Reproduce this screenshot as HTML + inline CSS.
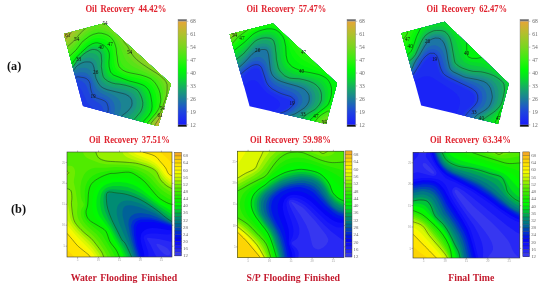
<!DOCTYPE html><html><head><meta charset="utf-8"><style>html,body{margin:0;padding:0;background:#fff;width:550px;height:288px;overflow:hidden}svg{display:block}</style></head><body>
<svg width="550" height="288" viewBox="0 0 550 288">
<rect width="550" height="288" fill="#fff"/>
<defs>
<linearGradient id="cba" x1="0" y1="0" x2="0" y2="1"><stop offset="0.0000" stop-color="#e6a537"/><stop offset="0.1250" stop-color="#afc12d"/><stop offset="0.2500" stop-color="#78d71e"/><stop offset="0.3750" stop-color="#32f00f"/><stop offset="0.4643" stop-color="#00fa05"/><stop offset="0.5357" stop-color="#05e123"/><stop offset="0.6250" stop-color="#14b45a"/><stop offset="0.6786" stop-color="#199b78"/><stop offset="0.7500" stop-color="#1c7d9b"/><stop offset="0.8214" stop-color="#1e5cc3"/><stop offset="0.8750" stop-color="#1e44de"/><stop offset="0.9464" stop-color="#1c2df0"/><stop offset="1.0000" stop-color="#191efa"/></linearGradient>
<clipPath id="cA1"><polygon points="64,34 104.5,23.3 171,84 158,126 83,106"/></clipPath>
<clipPath id="cA2"><polygon points="229.8,34.2 272.9,23.5 337.1,83.3 326,123.8 249.6,106.3"/></clipPath>
<clipPath id="cA3"><polygon points="401.5,33.3 444.5,21.8 508.8,83.5 498,123.8 421.2,105.6"/></clipPath>
<clipPath id="cB1"><rect x="67" y="152" width="105" height="105"/></clipPath>
<clipPath id="cB2"><rect x="237.5" y="151.2" width="106.5" height="106.3"/></clipPath>
<clipPath id="cB3"><rect x="413" y="152.4" width="106.8" height="105.6"/></clipPath>
</defs>
<text x="85.4" y="11.9" font-size="9.3" fill="#e0222e" font-weight="bold" textLength="81" lengthAdjust="spacingAndGlyphs" word-spacing="1.6" font-family="Liberation Serif, Times New Roman, serif">Oil Recovery 44.42%</text>
<text x="246.5" y="11.9" font-size="9.3" fill="#e0222e" font-weight="bold" textLength="79.6" lengthAdjust="spacingAndGlyphs" word-spacing="1.6" font-family="Liberation Serif, Times New Roman, serif">Oil Recovery 57.47%</text>
<text x="426.5" y="11.9" font-size="9.3" fill="#e0222e" font-weight="bold" textLength="80.5" lengthAdjust="spacingAndGlyphs" word-spacing="1.6" font-family="Liberation Serif, Times New Roman, serif">Oil Recovery 62.47%</text>
<text x="89" y="142.6" font-size="9.3" fill="#e0222e" font-weight="bold" textLength="80.7" lengthAdjust="spacingAndGlyphs" word-spacing="1.6" font-family="Liberation Serif, Times New Roman, serif">Oil Recovery 37.51%</text>
<text x="250.1" y="142.6" font-size="9.3" fill="#e0222e" font-weight="bold" textLength="80.7" lengthAdjust="spacingAndGlyphs" word-spacing="1.6" font-family="Liberation Serif, Times New Roman, serif">Oil Recovery 59.98%</text>
<text x="430" y="142.6" font-size="9.3" fill="#e0222e" font-weight="bold" textLength="80.7" lengthAdjust="spacingAndGlyphs" word-spacing="1.6" font-family="Liberation Serif, Times New Roman, serif">Oil Recovery 63.34%</text>
<text x="7" y="70.3" font-size="12.3" fill="#111" font-weight="bold" text-anchor="start" font-family="Liberation Serif, Times New Roman, serif" >(a)</text>
<text x="11" y="213" font-size="12.3" fill="#111" font-weight="bold" text-anchor="start" font-family="Liberation Serif, Times New Roman, serif" >(b)</text>
<text x="70.7" y="281.1" font-size="9.8" fill="#c41a2e" font-weight="bold" text-anchor="start" font-family="Liberation Serif, Times New Roman, serif" word-spacing="1.3">Water Flooding Finished</text>
<text x="246.5" y="281.1" font-size="9.8" fill="#c41a2e" font-weight="bold" text-anchor="start" font-family="Liberation Serif, Times New Roman, serif" word-spacing="1">S/P Flooding Finished</text>
<text x="448.2" y="281.1" font-size="9.8" fill="#c41a2e" font-weight="bold" text-anchor="start" font-family="Liberation Serif, Times New Roman, serif" word-spacing="0.5">Final Time</text>
<g clip-path="url(#cA1)">
<rect x="63.0" y="22.3" width="109.0" height="104.7" fill="#1a23f7"/>
<path d="M63.8 22.3L172.5 22.3 172.5 127.3 63 127.3 63 22.3Z" fill="#1c2df0"/>
<path d="M63.8 22.3L172.5 22.3 172.5 127.3 63 127.3 63 22.3Z" fill="#1d38e7"/>
<path d="M63.8 22.3L172.5 22.3 172.5 127.3 63 127.3 63 22.3ZM77.3 86.8L70.1 102.5 68.7 106.3 68.4 108.5 68.8 110.8 70.5 112.9 73.5 114.3 76.5 114.7 80.2 114.4 84 113.4 92.1 110 93.3 109.3 93.3 108.5 89.2 104.8 87.3 102.5 82.1 91.3 79.6 87.5 78 86.3Z" fill="#1e44de"/>
<path d="M63.8 22.3L172.5 22.3 172.5 127.3 96.1 127.3 96.4 124.3 97.7 120.5 99.7 116.8 103.1 112.3 103.5 111.5 103.6 110.1 102.3 107 100.6 104.8 98.9 103.3 93.8 99.9 91.2 97.3 89.6 94.3 86.8 86.8 84.8 83.6 83.2 82.2 81 80.8 78 79.8 76.5 79.9 72 85.1 69.8 87 66.8 88.7 63 89.5 63 22.3Z" fill="#1e54cc"/>
<path d="M63.8 22.3L172.5 22.3 172.5 127.3 105.3 127.3 105.5 124.3 106.5 120.5 110.4 112.3 110.5 107.8 109.7 104 108.6 101.8 106.5 99.7 103.5 98 98.1 95.8 95.2 93.5 93.8 91.3 92.9 89 91.5 83 90.8 81 89.2 78.8 87 77 84.8 75.9 78.8 75.3 76.5 75.4 75 76.2 72 79.6 69 81.8 66 83.1 63 83.6 63 22.3Z" fill="#1e64b9"/>
<path d="M63.8 22.3L172.5 22.3 172.5 127.3 111.7 127.3 112.2 122 114.2 113.8 114.8 110 114.7 106.3 113.9 103.3 112.1 100.3 109.8 98 107.2 96.3 100.5 92.8 97.5 90.3 95.2 86.8 91.7 78.5 89.2 75.2 87 73.5 84.8 72.6 82.5 72.2 79.5 72.3 75 73.6 70.5 77.1 68.2 78.4 66 79.2 63 79.6 63 22.3Z" fill="#1c75a5"/>
<path d="M63.8 22.3L172.5 22.3 172.5 127.3 117 127.3 118 116 120.2 110.8 121 107.8 121.1 104.8 120.2 101.8 118.2 98.8 114.8 95.9 111 94 103.5 90.9 99.6 88.3 96.8 84.3 92.2 73.6 89.9 70.3 88.5 69.1 86.2 68 84 67.7 81 68 78 69.1 69 75.1 66 76.2 63 76.6 63 22.3Z" fill="#1b8492"/>
<path d="M63.8 22.3L172.5 22.3 172.5 127.3 121.8 127.3 122.3 117.5 123 116.3 127.5 113.2 129.2 111.5 131.2 109.3 132.7 107 133.2 105.5 133.3 103.3 133.2 100.3 132.7 98.8 130.5 95.8 126.8 93.5 123.8 92.5 114 90.5 107.2 88.7 103.5 87.1 101.2 85.5 98.7 82.3 96.9 78.5 96.2 76.3 95.7 71.8 94.5 65.6 93.3 62.8 91.5 61.3 89.2 60.8 86.2 60.8 84 61.2 81.8 62 79.1 63.5 76.5 65.7 75 67.4 73.7 69.5 71.2 71.6 67.5 73.3 63 74.1 63 22.3Z" fill="#1a9481"/>
<path d="M63.8 22.3L172.5 22.3 172.5 127.3 126.3 127.3 126.6 122.1 127.2 118.3 133.5 111.7 135.1 109.3 136 107 136.5 104.8 136.6 101.8 136.2 99.5 135.3 97.3 133.9 95 132.5 93.5 128.2 90.9 123.8 89.4 113.2 87.4 109.5 86.3 105.8 84.7 102.8 82.5 100.7 80 99.3 77 96.5 62.8 95.2 60.5 93 58.5 90.8 57.7 88.5 57.6 86.2 57.9 83.2 58.9 80.2 60.7 78 62.5 75.8 64.8 72.8 68.7 71.2 69.8 67.5 71.3 63 71.9 63 22.3Z" fill="#17a36e"/>
<path d="M63.8 22.3L172.5 22.3 172.5 127.3 130.3 127.3 130.7 123.5 131.8 119.8 133.2 117.5 136.6 113.8 138.1 111.5 139.3 109.3 140.1 107 140.6 104 140.5 101.8 139.9 98.8 138.7 95.8 137.4 93.5 135.8 91.6 133.5 89.9 130.5 88.4 124.5 86.4 114.8 85 111 84.1 106.5 82 103.5 79.8 102 77.3 101 73.3 100 66.5 99.8 61.3 99.3 59 97.8 56 95.2 54 93 53.2 90.8 53 88.5 53.4 85.5 54.6 82.5 56.5 78.8 59.7 73.5 66.6 72 68.1 68.2 69.4 63 70 63 22.3Z" fill="#14b45a"/>
<path d="M63.8 22.3L172.5 22.3 172.5 127.3 133.8 127.3 134.4 123.5 136 119.8 141.8 112.6 143.6 108.5 144.2 105.5 144.2 102.6 143.4 98.8 142.4 95.8 140.5 92 138.9 89.8 135.4 87.5 131.6 86 125.2 84.2 115.5 82.5 112.5 81.7 108.8 80 106 77.8 104.5 75.5 103.2 70.3 102.6 65.8 102.9 60.5 102.7 54.5 101.3 51.5 98.7 49.3 96 48.4 93.8 48.1 91.5 48.5 89.5 49.3 85.1 52.3 78.8 58 77.2 59.8 73.3 65.8 72 67.1 69 67.8 63 68.2 63 22.3Z" fill="#0ec644"/>
<path d="M63.8 22.3L172.5 22.3 172.5 127.3 136.7 127.3 137.1 124.3 138.1 121.3 144.2 113 145.3 110.8 146.2 107.8 146.6 104.8 146.4 101.8 145.7 98 144.4 94.3 141.5 89.8 139.9 88.3 137.5 86.8 130.5 84.3 114 79.9 111 78.5 108.3 76.3 106.4 73.3 105.2 68.8 104.8 65 104.9 56.8 104.5 53.8 102.8 50.4 99.7 47.9 97.5 47 95.2 46.6 92.2 46.9 90 47.8 84.8 51.5 78.1 57.5 72.8 65.5 72 66.2 70.5 66.5 63 66.4 63 22.3Z" fill="#08d82e"/>
<path d="M63.8 22.3L172.5 22.3 172.5 127.3 139.1 127.3 139.6 124.3 140.4 122 146.7 113.8 148.1 110.8 148.8 108.5 149.2 105.5 149 101.8 148.2 97.3 146.9 93.5 145.7 91.3 143.9 89 142.3 87.5 139.8 86 136.5 84.7 116.2 78.5 112.5 76.9 110.2 75.2 108.4 72.5 107.2 68 106.8 64.3 107.1 56.8 106.5 53 105.5 50.8 104.5 49.3 101.2 46.5 98.2 45.2 96 45 93 45.3 90.8 46.2 88.5 47.5 84.8 50.5 77.9 56.8 76.1 59.1 72 65.2 70.5 65.5 66.8 64.9 63 64.7 63 22.3Z" fill="#04e71c"/>
<path d="M63.8 22.3L172.5 22.3 172.5 127.3 141.2 127.3 141.5 125 142.3 122.8 148.5 115.8 150.7 112.3 151.7 110 152.1 106.3 151.9 102.6 150.6 95 149.3 91.3 147.9 89 146.2 87.2 142.5 84.8 138 83.2 129 80.9 123.8 79 114.7 75.5 113.2 74.8 111.8 73.5 110.2 71 109.1 66.5 108.9 62 109.4 56.8 109 52.3 107.2 48.5 105.3 46.3 103.5 44.9 100.5 43.5 97.5 42.8 95.2 42.9 92.2 43.8 87.8 46.5 81 52.7 76.9 56.8 72 63.6 71.2 64.1 66.8 63.2 63 62.9 63 22.3Z" fill="#01f40c"/>
<path d="M63.8 22.3L172.5 22.3 172.5 127.3 143 127.3 143.3 125 144.1 122.8 150.8 115.2 153 111.5 153.7 109.3 154.3 104.8 154.2 101 153.2 95 151.7 90.5 150.4 88.3 148.6 86 144.8 83.3 141 81.7 130.5 79 123.8 76.7 117.9 74 114.9 71.8 113.2 69.5 111.9 65.8 111.5 62.8 111.3 53.8 110.5 50 109.5 47.8 108 45.5 105 42.8 102 41.4 98.2 40.5 95.2 40.7 92.2 41.6 88.5 43.7 85.2 46.3 75.2 56.8 71.2 61.8 70.5 62.1 66.8 61.3 63 61 63 22.3Z" fill="#0af807"/>
<path d="M63.8 22.3L172.5 22.3 172.5 127.3 144.5 127.3 145 124.3 145.6 122.8 152.5 114.5 154.8 110.8 155.9 107.8 156.6 104.1 156.6 99.5 155.8 94.3 154.5 90.5 152.9 87.5 151.2 85.3 148.9 83 146.2 81.3 140.2 79 129 76.3 124.5 74.8 120 72.6 117.1 70.3 115.2 67.3 114.3 64.3 113.1 52.3 112 47.8 109.5 43.4 108 41.8 105.8 40.1 102.8 38.8 99 38 95.2 38.3 92.2 39.3 88.5 41.3 84.8 44.1 70.5 59.5 69 59.6 63 59 63 22.3Z" fill="#1ef40b"/>
<path d="M63.8 22.3L172.5 22.3 172.5 127.3 145.9 127.3 146.3 124.3 147 122.8 155.7 112.3 158.4 107 159.1 104 159.5 99.6 158.8 94.3 157.7 90.5 155.8 86.8 153.7 83.8 150.8 80.9 148.5 79.4 145.5 78 141 76.5 126 73.3 122.5 71.8 119.2 69.3 117.7 67.3 116.2 62.4 115 50 113.9 45.5 111.7 41 110.2 39.4 108 37.6 104.2 35.8 99.8 34.9 96 35.2 93 36.2 88.5 38.5 84 41.9 76.7 50.8 70.5 56.7 69 57.3 63 56.8 63 22.3Z" fill="#32f00f"/>
<path d="M63.8 22.3L172.5 22.3 172.5 127.3 147.1 127.3 147.5 124.3 148.2 122.8 156.7 113 159 109.7 159.9 107.8 161.4 101.8 161.6 98.8 161.1 92.8 160 89 158.3 85.3 156.4 82.3 154.4 80 151.7 77.8 142.9 74 129 69.8 125.7 68 123.2 65.8 121.5 63.4 120 59.9 118.4 53 117.5 47.8 116.2 43.7 114.8 40.6 111.8 36.7 108 34 102 32 98.2 31.8 93.5 32.8 90.8 34 88.5 35.4 82.4 40.3 75 49.4 69.8 54.2 68.2 54.7 63 54.5 63 22.3Z" fill="#46e913"/>
<path d="M63.8 22.3L172.5 22.3 172.5 127.3 148.3 127.3 148.5 124.3 149.3 122.8 156.8 114.4 159.5 110.8 160.7 108.6 162.5 101.8 163 98 163 92 161.7 86.8 160.3 83.8 158.8 81.5 156.8 79.2 153.8 76.7 147.8 73.4 134.3 67.3 130.7 65 128.2 62.8 126 60.2 124.1 56.8 119.9 46.3 117.7 41.8 115.2 38 112.5 35.1 108.8 32.3 104.2 30.4 98.2 29.2 96 29.3 94.5 29.6 90 31.7 84.8 35.4 80.2 39.7 74.2 46.8 69 51.6 67.5 52.2 63 52.2 63 22.3Z" fill="#5ae218"/>
<path d="M63.8 22.3L172.5 22.3 172.5 127.3 149.4 127.3 149.6 124.3 150.3 122.8 159.4 112.3 161.6 108.5 164.1 99.5 165 94.3 164.8 89 163.7 84.5 161.6 80.8 157.1 76.3 152.2 73.2 138.8 65.7 135 63.1 132 60.5 128.2 55.7 124.2 47.8 120.4 41.8 116.9 37.3 113.2 33.4 108.5 29.8 104.2 28.1 99.4 26.8 98.5 26 97.5 24.3 96.8 23.6 96 23.4 94.5 24.3 91.7 27.6 84 33 75 42.9 69 48.5 66.8 49.6 63 49.8 63 22.3Z" fill="#6edb1c"/>
<path d="M63.8 22.3L87.5 22.3 87.2 25.3 86.4 27.6 80.2 33.4 73.8 41 67.5 46.6 66 47.2 63 47.4 63 22.3ZM120.8 22.3L172.5 22.3 172.5 127.3 150.6 127.3 150.7 124.3 151.4 122.8 159.8 113.2 161.2 110.9 162.4 108.5 163.5 104.1 165.4 99.5 166.8 94.3 167.2 89 167.1 84.5 165.8 81.5 164.7 80 159.9 75.5 141 63.1 136.9 59.8 133.5 56.2 130.5 51.9 127.5 46.2 124.4 42.5 121.2 36.5 120.5 31.3 120.3 22.3Z" fill="#80d420"/>
<path d="M63.8 22.3L82.2 22.3 82.1 26.8 82 28.3 81 29.8 69.9 41.8 66.3 44.8 63 45.3 63 22.3ZM171 33.5L172.5 33.3 172.5 79.2 168.8 80.3 167.2 79.5 164.2 76.6 154 69.5 145.6 62.8 136.8 54.5 134.4 51.5 133.3 49.3 133.5 48.3 134.2 47.8 147.9 43.3 165 35.3 170.5 33.5ZM171 92.7L172.5 92.6 172.5 127.3 151.7 127.3 151.7 125 152.3 123.5 154.4 120.5 158.4 116 161.2 112.1 163.2 108.6 164.4 104.8 166.2 101.8 168 96.3 169.5 93.5 170.8 92.8Z" fill="#90ce24"/>
<path d="M63.8 22.3L77.2 22.3 77.7 29.1 77.7 29.8 76.8 31.3 72 36.8 67.5 41.4 65.2 43 63 43.3 63 22.3ZM171 106.2L172.5 106.1 172.5 127.3 152.9 127.3 153 125 153.6 123.6 159.3 116 163.5 109.5 165 108.3 166.5 107.5 170.6 106.3Z" fill="#9fc729"/>
<path d="M63.8 22.3L71.3 22.3 71.7 25.3 73.3 31.3 72.7 32.8 70.5 35.5 66 40.3 64.9 41 63.8 41.3 63 41.3 63 22.3ZM164.2 110.8L168 111.9 172.5 112.3 172.5 127.3 154.1 127.3 154.2 125.1 154.9 123.6 162.8 112.1 164.2 110.8Z" fill="#afc12d"/>
<path d="M63.2 27.5L65.2 28.2 66.8 29.2 68.8 31.3 69.2 32.8 68.3 34.3 65.2 37.6 64.5 38.2 63 38.5 63 27.5ZM161.2 116.7L162 116.3 162.8 116.5 169.5 119.4 172.5 120 172.5 127.3 155.4 127.3 155.4 125.8 156 124.3 158.2 120.5 161.1 116.8Z" fill="#bfb930"/>
<path d="M63.8 32.9L65.1 33.5 65 34.3 63.8 35.2 63 35.2 63 32.9ZM159.8 121.1L160.5 120.8 161.6 122 162.5 124.3 162.9 127.3 157.1 127.3 157.2 125.1 159.6 121.3Z" fill="#ceb133"/>
<path d="M101.2 127.3L101.7 123.5 102.9 119.8 104.9 116 107.8 112.3 108.3 109.3 108 106.6 106.9 103.3 105.8 101.8 105 101.2 101.7 99.6 96 97.8 94.5 96.9 93.4 95.8 92.4 94.3 91.5 92 90.6 88.3 90 83.6 89.2 81.6 88.1 80 86.1 78.5 84 77.7 78 76.8 76.5 77 75.8 77.5 72.8 81.3 69.8 83.8 66.8 85.4 63 86.1M120.6 127.3L121 118.3 121.5 116.2 122.2 115.4 126.5 112.3 128 110.8 130.5 107.9 131.7 105.5 132 103.3 131.7 100.3 130.6 98 129.2 96.5 128.2 95.8 125.4 94.3 123.2 93.6 107.2 89.7 103.7 88.3 101.2 86.8 99.8 85.2 98.2 83 96 78.4 95.4 76.3 95 72.5 93.9 67.3 93 64.8 92.2 63.5 91.6 62.8 90 62 87 61.9 84.8 62 81.8 63 79.5 64.2 77.2 65.8 75.7 67.3 74.4 69.5 70.5 72.5 66.8 74.1 63 74.7M132.2 127.3L132.3 125 132.8 122.8 134.5 119 140.2 112.3 141.1 110.8 142 108.5 142.7 105.5 142.8 102.5 142 98.8 141 96 139.5 93 138 90.8 136.9 89.8 134.4 88.3 130.8 86.8 125.2 85.2 119.2 84.1 115.5 83.8 111.8 82.9 108 81.3 104.3 78.5 103.1 76.3 102.2 72.5 101.3 66.5 101.7 61.3 101.2 54.6 100.5 53 99.3 51.5 98.3 50.8 96.8 50 94.5 49.5 92.2 49.5 90 50.2 86.2 52.3 83.2 54.5 79.5 58 78 59.6 73.2 66.5 72 67.6 68.2 68.6 63 69.1M141.2 127.3L141.5 125 142.3 122.8 143.4 121.3 148.5 115.8 150.7 112.3 151.7 110 152.1 106.3 151.9 102.6 150.6 95 149.3 91.3 147.9 89 146.2 87.2 144.7 86 142.5 84.8 138 83.2 129 80.9 123.8 79 114.7 75.5 113.2 74.8 111.8 73.5 110.9 72.5 110.2 71 109.1 66.5 108.9 62 109.4 56.8 109.3 53.8 109 52.3 108.1 50 107.2 48.6 104.4 45.5 101.2 43.8 97.5 42.8 95.2 42.9 92.2 43.8 87.8 46.5 81 52.7 76.9 56.8 72 63.6 71.2 64.1 66.8 63.2 63 62.9M146.5 127.3L146.9 124.3 147.6 122.8 156 113 158.2 109.7 159.2 107.8 160.6 101.8 160.8 99.5 160.1 93.5 159 89.8 157.2 86.1 155.2 83 152.4 80 150.3 78.5 146.2 76.7 141 75 129.8 72.8 126.2 71.8 123 70.3 120.2 68 119.2 66.8 118.5 65 117.7 62 117.2 56.8 116.6 53.8 116.2 48.5 115.2 44.8 114.4 42.5 113.2 40.5 111.8 38.4 110.6 37.3 108.7 35.8 107.2 35 105 34.1 101.2 33.2 98.2 33.1 93.5 34.3 91.5 35.2 89.1 36.5 83.2 41 81.8 42.5 76.1 50 70.5 55.3 69 56 68.2 56.1 63 55.7M87.5 22.3L87.2 25.3 86.4 27.6 85.8 28.3 83 30.6 80.2 33.4 73.8 41 67.5 46.6 66 47.2 63 47.4M150.6 127.3L150.7 124.3 151.4 122.8 153.8 119.8 157.4 116 159.8 113.2 161.2 110.9 162.4 108.5 163.5 104.1 165.4 99.5 166.8 94.3 167.2 89 167.1 84.5 165.8 81.5 164.7 80 163.3 78.5 159.9 75.5 157.5 73.8 148.3 68.1 141 63.1 136.9 59.8 133.5 56.2 130.5 51.9 127.5 46.2 124.4 42.5 121.2 36.5 120.5 31.3 120.3 22.3M66.9 22.3L67.6 24.6 70.5 29.8 71.3 32 70.5 33.7 65.2 39.4 64.5 39.9 63 40M154.7 127.3L154.9 125 155.7 123.6 159.8 117.5 162.8 113.7 163.5 113 165 113.9 168 115 172.5 115.7" fill="none" stroke="#1a2a1a" stroke-width="0.55" stroke-opacity="0.85"/>
</g>
<text x="67.8" y="37.3" font-size="5.2" fill="#111" text-anchor="middle" font-family="Liberation Serif, Times New Roman, serif">61</text>
<text x="76.7" y="40.6" font-size="5.2" fill="#111" text-anchor="middle" font-family="Liberation Serif, Times New Roman, serif">54</text>
<text x="105" y="25.3" font-size="5.2" fill="#111" text-anchor="middle" font-family="Liberation Serif, Times New Roman, serif">54</text>
<text x="101" y="48.5" font-size="5.2" fill="#111" text-anchor="middle" font-family="Liberation Serif, Times New Roman, serif">40</text>
<text x="110.2" y="46.3" font-size="5.2" fill="#111" text-anchor="middle" font-family="Liberation Serif, Times New Roman, serif">47</text>
<text x="129.5" y="53.8" font-size="5.2" fill="#111" text-anchor="middle" font-family="Liberation Serif, Times New Roman, serif">54</text>
<text x="78.5" y="60.8" font-size="5.2" fill="#111" text-anchor="middle" font-family="Liberation Serif, Times New Roman, serif">33</text>
<text x="95.7" y="74" font-size="5.2" fill="#111" text-anchor="middle" font-family="Liberation Serif, Times New Roman, serif">26</text>
<text x="93" y="98.3" font-size="5.2" fill="#111" text-anchor="middle" font-family="Liberation Serif, Times New Roman, serif">19</text>
<text x="162.3" y="109.8" font-size="5.2" fill="#111" text-anchor="middle" font-family="Liberation Serif, Times New Roman, serif">54</text>
<text x="160" y="116.8" font-size="5.2" fill="#111" text-anchor="middle" font-family="Liberation Serif, Times New Roman, serif">61</text>
<g clip-path="url(#cA2)">
<rect x="228.8" y="22.5" width="109.3" height="102.3" fill="#1a23f7"/>
<path d="M229.6 22.5L338.3 22.5 338.3 125.2 257.5 125.2 257.9 123 258.8 120.8 261.9 117 267.1 113.5 273.1 111 277.4 108.8 279.5 106.5 280.1 104.2 279.4 102 278.2 100.5 275.4 98.2 267.1 92.9 263.4 89.2 258.1 82.5 256.6 81.3 254.3 80.3 251.3 80.3 249.1 81.3 242.6 87.8 238.6 93.5 235.6 96.9 232.6 98.9 228.8 99.9 228.8 22.5Z" fill="#1c2df0"/>
<path d="M229.6 22.5L338.3 22.5 338.3 125.2 269 125.2 269.3 123 270.1 120.8 271.3 118.5 273.1 116.2 277.6 112.4 283.3 110.2 287.3 108 290.3 105 291 103.5 291 102 290.2 100.5 288.8 99.4 282.1 97.2 276.8 95 270.8 91.7 267.8 89 265.6 86.6 264.5 84.8 260.3 71.7 259.3 69.8 258.1 68.8 256.6 68.4 254.3 68.5 251.1 69.8 247.5 72.8 244.6 75.7 241.6 80.9 238.6 84 234.1 86.8 231.8 87.6 228.8 88 228.8 22.5Z" fill="#1d38e7"/>
<path d="M229.6 22.5L338.3 22.5 338.3 125.2 274.7 125.2 275.7 120 278.7 113.2 279.9 112.5 285.1 110.8 288.8 108.3 291.5 105.8 292.5 104.2 293.1 102 292.8 100.5 291.7 99 289.6 97.5 282.3 95.2 277.6 93.3 272.3 90.6 269.8 88.5 267 85.5 265.6 83 260.9 69 259.6 67.2 257.3 66.2 255.8 66 253.6 66.4 249.8 68.3 244.1 72.8 240.1 77.8 237.8 79.3 233.3 81.3 228.8 82 228.8 22.5Z" fill="#1e44de"/>
<path d="M229.6 22.5L338.3 22.5 338.3 125.2 278.9 125.2 279.3 120.8 280.7 114 287.6 111 289.9 109.5 293.3 106.5 294.8 104.6 295.6 102.8 295.8 100.5 295.3 99 294.1 97.4 291.8 95.7 278.3 90.4 273.8 88 270.8 85.6 268.9 83.2 267.2 80.2 262.3 66.8 261.1 65.1 258.8 63.7 255.1 63.4 252.1 64.3 246.1 68.3 242.3 71.5 240.1 73.8 237.8 75.3 233.3 77.1 228.8 77.7 228.8 22.5Z" fill="#1e54cc"/>
<path d="M229.6 22.5L338.3 22.5 338.3 125.2 282.6 125.2 283.1 116.2 283.4 114.8 284.4 114 291 110.9 294 108.8 296.2 106.5 297.6 104.2 298.3 102 298.4 99.8 297.7 97.5 296.1 95.2 293.3 93 290.3 91.5 278.3 86.7 274.9 84.8 272.3 82.6 270 79.8 268.6 77.2 264.1 65.1 261.8 62.4 259.6 61.2 256.6 60.8 252.8 61.6 250.6 62.7 247.6 64.8 239.3 71.9 234.1 73.6 228.8 74.2 228.8 22.5Z" fill="#1e64b9"/>
<path d="M229.6 22.5L338.3 22.5 338.3 125.2 286 125.2 286.3 115.5 287.3 114.6 292.6 112.4 295.9 110.2 299.2 107.2 301.3 104.2 302.2 102 302.4 99.8 302.1 97.5 301.2 95.2 298.7 92.2 295.6 90 291 88 279.8 84 276.1 82 273.7 80.2 271.1 77.2 269.5 74.2 267 65.2 265.6 61.7 263.3 58.9 261.1 57.5 259.6 57.1 257.3 57 255.1 57.5 252.8 58.5 249.1 61.1 240 69 238.6 69.9 233.3 70.8 228.8 71.2 228.8 22.5Z" fill="#1c75a5"/>
<path d="M229.6 22.5L338.3 22.5 338.3 125.2 289.4 125.2 289.3 117 289.6 116.1 290.3 115.5 294.6 114 298.7 111.8 304.2 108 306.1 106.3 307.6 104.2 309 101.2 309.2 99.8 309.1 96 308.3 93.8 306.8 91.7 305.1 90 301.6 87.8 297.1 86.1 281.3 81.5 277.6 79.8 273.8 76.8 271.6 73.5 270.4 69.8 268.6 54.8 267.8 52 267.1 50.4 265.6 49.6 261.1 49.5 258.1 50.5 254.2 52.5 252.1 54.2 243.8 63.1 239.3 67.2 237.8 67.7 228.8 68.3 228.8 22.5Z" fill="#1b8492"/>
<path d="M229.6 22.5L338.3 22.5 338.3 125.2 292.7 125.2 292.7 118.5 293 117 293.9 116.2 299.3 113.9 305.3 110 308.5 107.2 310.3 105 311.5 102.8 312.2 99.8 312.3 96.8 311.9 94.5 310.9 92.2 309.3 90 306.9 87.8 304.6 86.3 298.2 84 289.6 82.1 285.1 80.8 280.5 78.8 276.6 75.8 274.3 72.8 273 69.8 272.3 66.8 271 54.8 270.4 51.8 269.7 49.5 267.8 47.4 265.6 46.6 262.6 46.4 260.3 46.7 257.3 47.7 254.3 49.5 251.3 51.8 244.5 59.4 238.6 64.9 237.1 65.3 228.8 65.7 228.8 22.5Z" fill="#1a9481"/>
<path d="M229.6 22.5L338.3 22.5 338.3 125.2 296 125.2 296.2 119.2 296.6 117.8 297.4 117 301.6 114.7 308.8 109.5 311.3 107.2 313.6 104.2 314.6 102 315.3 99 315.3 96 314.6 93 313.5 90.8 311.7 88.5 309.1 86.2 306.7 84.8 303.8 83.5 300.1 82.3 290.3 80.8 286.6 79.8 282.7 78 278.9 75 276.5 72 274.7 67.5 273.4 60 272.8 54 271.9 49.5 270.3 46.5 267.8 44.5 265.6 43.8 262.6 43.6 260.3 44 257.3 45.1 254.3 47 252.1 48.8 244.6 56.7 238.6 62.1 236.3 62.8 228.8 63.1 228.8 22.5Z" fill="#17a36e"/>
<path d="M229.6 22.5L338.3 22.5 338.3 125.2 299.1 125.2 299.5 120.8 300.2 118.5 306.8 113.1 313.5 108.7 315.7 106.5 317.3 104.2 318.7 101.3 319.3 98.2 319.3 95.2 318.6 92.2 317 89.2 314.4 86.2 312.5 84.8 309.1 82.9 304.6 81.2 300.1 80.1 291.1 79.4 288.3 78.8 283.5 76.5 280.2 73.5 278.1 70.5 276.6 66.8 275.3 59.7 274.9 54 273.6 46.5 272.2 43.5 270.1 41.3 267.8 40.3 264.8 39.9 261.8 40.2 258.1 41.4 255.8 42.7 252.8 45.2 244 54.7 237.8 59.8 235.6 60.4 228.8 60.5 228.8 22.5Z" fill="#14b45a"/>
<path d="M229.6 22.5L338.3 22.5 338.3 125.2 302 125.2 302.6 120.8 303.6 118.5 308.3 114.6 315.8 109.9 318.6 107.2 321.1 104 322.4 101.3 322.8 99 322.8 93.8 322.1 90.8 320.7 87.8 319 85.5 316.6 83.3 313.7 81.8 309.8 80.1 304.6 78.6 290.3 76.5 286 74.2 282.8 71.4 280.6 68.2 278.9 63.8 277.8 58.5 276.4 45 275.1 40.5 274.2 39 273.1 38 270.1 36.7 265.6 36.5 261.8 36.8 257.7 38.2 255.1 39.8 253.3 41.2 243.1 52.4 237.1 57.3 234.8 57.9 228.8 58.1 228.8 22.5Z" fill="#0ec644"/>
<path d="M229.6 22.5L338.3 22.5 338.3 125.2 304.6 125.2 305.1 120.8 306.3 118.5 318.3 109.5 321.3 106.5 323.4 103.5 324.7 100.5 325.3 96.8 325.3 93 324.5 89.2 323.1 86.2 321.4 84 318.9 81.8 316.5 80.2 313 78.8 309.1 77.5 296.3 74.8 292.6 73.7 288.8 71.8 285.8 69.3 283.4 66 281.5 61.5 280.6 57 279.3 45.8 278.1 41.2 276.5 38.2 273.8 35.8 270.8 34.6 267.1 34.2 262.6 34.6 258.1 36 255.8 37.2 252.8 39.4 242.3 49.9 236.3 54.8 234.8 55.4 228.8 55.6 228.8 22.5Z" fill="#08d82e"/>
<path d="M229.6 22.5L338.3 22.5 338.3 125.2 306.9 125.2 307.3 121.5 308.3 119.2 310.6 117.2 321.9 108 324.2 105.8 325.8 103.5 327.3 99.8 328.1 95.2 328.1 91.5 327.3 87.8 326 84.8 324.5 82.5 322.2 80.2 319.6 78.5 312.8 76 301.6 73.6 295.6 71.9 291.1 69.7 287.5 66.8 285.4 63.8 284 60 283.3 56.2 282.4 46.5 281.3 41.2 279.8 38 277.6 35.1 274.6 33 270.1 31.7 264.8 31.9 259.6 33.2 255.8 34.9 253.6 36.5 242.3 47 235.6 52.4 234.1 53 228.8 53.3 228.8 22.5Z" fill="#04e71c"/>
<path d="M229.6 22.5L338.3 22.5 338.3 125.2 309 125.2 309.4 121.5 310.6 119.4 318.1 112.8 325.5 107.2 327.7 105 328.6 103.7 330.3 99 331.4 94.5 331.5 88.5 330.7 84.8 329.3 81.8 327.7 79.5 326.1 78 322.2 75.8 318.8 74.5 303.8 71.5 300.4 70.5 294.8 68.2 290.3 65.1 288.1 62.3 287.1 60 286.2 55.5 285.7 46.5 284.3 39.8 282.8 36.6 279.2 32.2 276 30 271.6 28.9 267.1 28.9 262.6 29.9 258.8 31.1 255.1 32.9 252.6 34.5 244.7 42 234.8 50 232.6 50.8 228.8 51 228.8 22.5Z" fill="#01f40c"/>
<path d="M229.6 22.5L338.3 22.5 338.3 78.9 333.8 79.2 331.6 78.7 322.6 73.1 304.6 66.4 300.8 64.5 297.5 62.3 294.4 59.2 291.8 55.4 290.2 51.8 286.5 40.5 284.3 36.5 280.8 32.2 279.1 30.5 276.8 28.9 273.1 27.3 270.1 27 266.3 27.3 261.1 28.6 255.3 30.8 249.6 34.5 234.1 48 232.6 48.6 228.8 48.9 228.8 22.5ZM336.8 92.1L338.3 92.1 338.3 125.2 310.9 125.2 311.2 121.5 312.8 119.2 318.8 113.6 326.7 108 329.8 105 331.4 102 334.6 94 335.3 92.8 336.2 92.2Z" fill="#0af807"/>
<path d="M229.6 22.5L338.3 22.5 338.3 65.8 335.3 66.1 332.3 66.8 329.3 68.1 325.4 70.5 324.1 70.6 319.5 69 304.6 60.8 300.1 57.5 296.3 53.5 293.3 49.1 287.9 39.8 281.3 31.5 277.6 28.1 272.3 25.2 270.8 25.1 267.1 25.6 261.8 26.8 254.3 29.7 249.8 32.2 246.5 34.5 239.3 40.5 233.3 46.2 231.8 46.7 228.8 46.9 228.8 22.5ZM336.1 103.5L338.3 103.2 338.3 125.2 312.7 125.2 312.8 122.3 313.2 120.8 316.5 116.7 319.6 114.1 327.1 109 332.3 105 336 103.5Z" fill="#1ef40b"/>
<path d="M229.6 22.5L255.5 22.5 254.8 26.2 253.6 27.8 246.1 32.3 239.3 37.5 232.6 44.2 231.1 44.8 228.8 45 228.8 22.5ZM298.6 33.7L302.3 33.2 303.8 33.5 306.1 34.4 309.1 36.8 311.3 40.2 312.8 44.6 313.3 49.5 312.7 55.5 312 57.8 311.3 58.3 309.1 57.9 307.6 57.2 302 53.2 296.3 47 291.9 40.5 291.3 39 291.3 38.2 291.8 37.5 294.8 35.4 298.4 33.8ZM334.6 108.7L338.3 108.5 338.3 125.2 314.5 125.2 314.4 122.2 314.8 120.8 317 117.8 319.6 115.4 328.6 109.5 334 108.8Z" fill="#32f00f"/>
<path d="M229.6 22.5L248 22.5 247.3 27 246.5 29.2 245.9 30 237.3 36.8 232.6 42.2 231.1 43.1 228.8 43.3 228.8 22.5ZM325.6 113.1L327.8 112.6 330 113 338.3 113.1 338.3 125.2 316.3 125.2 316.2 122.2 317.3 119.9 320.9 116.2 325.3 113.2Z" fill="#46e913"/>
<path d="M229.6 22.5L242.7 22.5 242.9 29.2 242.5 30.8 241.9 31.5 237 35.4 231.8 41.2 231.1 41.6 228.8 41.7 228.8 22.5ZM326.3 114.5L327.8 114.2 330.1 115.6 332.3 116.6 335.3 117.5 338.3 118 338.3 125.2 318.1 125.2 318.1 123 318.8 121.1 322 117.8 325.8 114.8Z" fill="#5ae218"/>
<path d="M229.6 22.5L237 22.5 237.5 25.5 239.1 30.8 238.6 32.2 232.6 38.8 231.6 39.8 230.3 40.2 228.8 40.2 228.8 22.5ZM326.3 116.2L327.1 116 327.5 116.2 328.6 118.3 332.3 121.5 333.4 123 334.2 125.2 320.1 125.2 320.4 122.2 322.3 120 326.3 116.2Z" fill="#6edb1c"/>
<path d="M229.6 27.6L232.6 29.1 234.3 30.8 235.3 32.2 235.3 33 234.3 34.5 231.8 37.6 230.3 38.4 228.8 38.3 228.8 27.5ZM324.8 120.6L325.6 120.1 326.3 120.1 327.8 121.2 328.9 123 329.4 125.2 322.3 125.2 322.4 123 324.6 120.8Z" fill="#80d420"/>
<path d="M229.6 32.9L230.3 33.1 231.1 33.8 231 34.5 230.4 35.2 229.6 35.5 228.8 35.5 228.8 32.9Z" fill="#90ce24"/>
<path d="M276.9 125.2L277.5 120.8 279.3 114 279.9 113.2 280.6 113 283.6 112.1 286.6 110.7 288.5 109.5 291.1 107.2 292.6 105.8 294 103.5 294.5 102 294.4 100.5 294.1 99.5 293.3 98.6 291.1 96.9 289.6 96.2 282 93.9 278.1 92.2 272.5 89.2 269.8 87 267.8 84.7 266.3 81.9 262.4 69.8 261.4 67.5 260.3 66.1 258.8 65.1 257.3 64.7 255.1 64.7 252.8 65.3 250.6 66.4 246.1 69.6 243.1 72.1 239.3 76.1 237.8 77.2 235.6 78.3 233.3 79.1 228.8 79.8M289.4 125.2L289.4 116.3 290.3 115.5 294.6 114 297.4 112.5 304.2 108 305.8 106.5 307.6 104.2 309 101.2 309.3 99 309.1 95.6 308.3 93.8 306.7 91.5 304.2 89.2 301.6 87.8 297.1 86.1 286.6 83.2 281.3 81.5 277.6 79.8 275.3 78.2 273.8 76.8 272.4 75 271.6 73.5 270.4 69.8 268.6 54.8 267.7 51.8 266.9 50.2 264.8 49.5 261.8 49.5 258.8 50.2 256.8 51 254.2 52.5 252.1 54.2 243.8 63.1 239.3 67.2 237.8 67.7 228.8 68.3M300.6 125.2L300.8 122.2 301.3 120 302.1 118.5 302.7 117.8 307.6 113.8 314.8 109.5 317.9 106.5 319.6 104.2 321 101.2 321.4 99.8 321.5 95.2 321.1 92.4 320.2 90 318.8 87.7 315.9 84.8 313.5 83.2 309.1 81.2 303.8 79.7 299.3 78.8 291.8 78.4 289.4 78 287.4 77.2 284.6 75.8 281.3 72.7 280.1 71.2 279.1 69.5 278.2 67.5 277.6 65.1 276.4 59.2 276 53.2 275.5 50.2 275.1 45.8 273.8 41.2 272.8 39.8 271.8 39 270 38.2 265.6 37.8 261.8 38.2 257.3 39.8 255 41.3 252.8 43.3 243.2 54 237.8 58.3 237.1 58.8 235.6 59.1 228.8 59.3M309 125.2L309.4 121.5 309.8 120.5 310.6 119.4 318.1 112.8 325.5 107.2 327.7 105 328.6 103.7 330.3 99 331.4 94.5 331.5 88.5 330.7 84.8 329.3 81.8 327.7 79.5 326.1 78 322.2 75.8 318.8 74.5 311.3 72.8 303.8 71.5 300.4 70.5 294.8 68.2 292.3 66.8 290.3 65.1 288.1 62.3 287.1 60 286.2 55.5 285.7 46.5 284.3 39.8 282.8 36.6 279.1 32.1 276 30 273.1 29.1 270.8 28.8 267.1 28.9 262.6 29.9 258.8 31.1 255.1 32.9 252.6 34.5 244.7 42 234.8 50 232.6 50.8 228.8 51M251.2 22.5L251 24.8 250.3 27 248.6 29.2 237.8 37.3 232.6 43.2 231.1 43.9 228.8 44.1M315.3 125.2L315.3 122.2 315.7 120.7 317.9 117.8 321.4 114.8 326.3 111.8 327.8 111.1 328.6 111 330.8 111.4 333.8 111 338.3 110.8M228.8 27.5L231.1 28.2 232.6 29.1 234.3 30.8 235.3 32.2 235.3 33 234.9 33.8 231.8 37.6 231.1 38.2 230.3 38.4 228.8 38.3M322.3 125.2L322.3 123.8 322.4 123 322.9 122.2 324.8 120.6 325.6 120.1 326.3 120.1 327.8 121.2 328.5 122.2 329.1 123.8 329.4 125.2" fill="none" stroke="#1a2a1a" stroke-width="0.55" stroke-opacity="0.85"/>
</g>
<text x="234.6" y="37" font-size="5.2" fill="#111" text-anchor="middle" font-family="Liberation Serif, Times New Roman, serif">54</text>
<text x="241.9" y="39.9" font-size="5.2" fill="#111" text-anchor="middle" font-family="Liberation Serif, Times New Roman, serif">47</text>
<text x="257.7" y="52.2" font-size="5.2" fill="#111" text-anchor="middle" font-family="Liberation Serif, Times New Roman, serif">26</text>
<text x="303.5" y="54.3" font-size="5.2" fill="#111" text-anchor="middle" font-family="Liberation Serif, Times New Roman, serif">47</text>
<text x="301.6" y="72.9" font-size="5.2" fill="#111" text-anchor="middle" font-family="Liberation Serif, Times New Roman, serif">40</text>
<text x="292" y="104.8" font-size="5.2" fill="#111" text-anchor="middle" font-family="Liberation Serif, Times New Roman, serif">19</text>
<text x="303" y="115.8" font-size="5.2" fill="#111" text-anchor="middle" font-family="Liberation Serif, Times New Roman, serif">33</text>
<text x="315.9" y="117.7" font-size="5.2" fill="#111" text-anchor="middle" font-family="Liberation Serif, Times New Roman, serif">47</text>
<text x="324.2" y="123.8" font-size="5.2" fill="#111" text-anchor="middle" font-family="Liberation Serif, Times New Roman, serif">54</text>
<g clip-path="url(#cA3)">
<rect x="400.5" y="20.8" width="109.3" height="104.0" fill="#1a23f7"/>
<path d="M401.2 20.8L510 20.8 510 125 448.1 125 448.6 122 450.1 119 452.2 116.4 456.5 113 458.6 108.5 459.6 105.5 460 102.5 459.9 100.3 459.3 98 456.9 94.3 452.2 90.2 433.5 78.2 429.8 76.6 426.8 76.2 423.8 76.6 420 78 414.8 80.8 413.4 82.3 410.2 89.2 408 92 406.5 93.3 404.2 94.5 400.5 95.4 400.5 20.8Z" fill="#1c2df0"/>
<path d="M401.2 20.8L510 20.8 510 125 456.5 125 457.3 121.3 459.1 118.3 465.1 110.8 471 105.7 473.2 103.1 474.2 101 474.5 99.6 474.3 95.8 472.5 93.2 468.8 90.4 450.8 81.8 445.5 79 441.8 76.3 440.1 74 438.4 70.3 435.6 59.8 434.7 58.3 433.5 57.3 432 57 430.5 57.1 429 57.6 427.5 58.7 423.8 62.8 417.2 73.3 412.5 79.4 408.8 83.1 406.5 84.8 403.5 86.2 400.5 86.7 400.5 20.8Z" fill="#1d38e7"/>
<path d="M401.2 20.8L510 20.8 510 125 461.3 125 462.1 120.5 464.3 115.3 467.7 110.8 473.5 105.5 475.6 102.5 476.6 98.8 476.2 95 474.3 92 471 89.6 468 87.8 447.4 77.8 443.2 75.1 441.8 73.2 440 69.5 436.8 58.3 435.3 56 433.5 54.9 431.2 54.6 429.8 54.9 427.5 56.1 425.2 58.2 421.7 62.8 414 74.9 412.5 76.6 406.5 80.4 403.5 81.4 400.5 81.8 400.5 20.8Z" fill="#1e44de"/>
<path d="M401.2 20.8L510 20.8 510 125 464.9 125 465.4 120.5 466.6 116 469 113 476.4 105.5 478.6 101.8 479.1 99.5 479.2 97.3 478.9 95 478.2 92.8 477.4 91.3 476.2 90 472.5 87.4 452.2 77.9 447.9 75.5 445.9 74 444 71.8 442.4 68.8 439.4 59 438 55.3 436.5 53.2 435 52.3 432.8 51.9 429.8 52.3 427.5 53.4 425.1 55.3 420 62 414.3 71.8 412.5 74.3 410.2 75.6 406.5 77.2 403.5 78 400.5 78.3 400.5 20.8Z" fill="#1e54cc"/>
<path d="M401.2 20.8L510 20.8 510 125 468 125 468.4 119.8 469.1 116.8 471.8 113.6 479.1 106.3 481.4 102.5 482.1 100.3 482.4 97.3 482 94.3 481.3 92 479.2 88.9 475.5 86 472.5 84.4 462.8 80.6 455.2 77.2 451.5 75.3 448.5 73.2 446.6 71 444.9 68 441.8 57.5 440.6 54.5 438.8 51.7 436.5 50 433.5 49.2 430.5 49.5 428.2 50.5 425.2 52.7 423 55.2 419.2 60.4 413.2 71.4 411.8 73 405.8 74.7 400.5 75.3 400.5 20.8Z" fill="#1e64b9"/>
<path d="M401.2 20.8L510 20.8 510 125 470.9 125.1 471.2 119 472 116.8 475.5 113.2 482.7 107.1 484.4 104.8 485.5 102.5 486.2 100.3 486.6 97.3 486.4 94.3 485.5 91.3 484.3 89 482.5 86.8 478.5 83.9 474 81.9 462.8 78.5 453 74 449.9 71.8 448.6 70.3 447.4 68.1 444.4 56 442.8 51.5 440.8 48.5 438 46.3 435 45.3 432 45.5 429 46.7 426 48.9 423 52.5 417.9 59.8 413 69.5 411.8 71.3 410.2 71.8 400.5 72.6 400.5 20.8Z" fill="#1c75a5"/>
<path d="M401.2 20.8L510 20.8 510 125 473.6 125 473.8 119.8 474.5 117.5 477.8 114.4 484 110.8 486.8 108.9 489 106.5 490.5 104 491.5 101 492.3 96.5 491.6 92 490.5 88.3 488.1 84.5 486.3 83 483.8 81.5 477.8 79.7 466.5 77.6 463.5 76.7 453.8 72.1 451.5 70.5 450.2 68.8 449.3 66.5 447.7 59 446.5 50.8 444.8 44.9 442.5 40.9 440.2 38.8 438 38.1 435 38.1 430.9 39.5 427.5 42.1 425.2 45.1 419.3 55.3 416.2 59.8 412 68.8 411.3 69.5 410.2 69.9 400.5 70.1 400.5 20.8Z" fill="#1b8492"/>
<path d="M401.2 20.8L510 20.8 510 125 476.2 125 476.3 119.8 476.8 118.3 480 115.6 488.7 110 491.6 107 493.4 104 494.8 100.3 495.4 96.5 495 92 493.8 87.5 492.5 85.3 490.8 83 489 81.5 486 79.7 480.8 77.9 468 75.6 464.2 74.6 456 70.7 453.4 68.8 451.8 66.5 450.4 62.8 448.3 50 446.2 42.6 444 38.8 441.3 36.5 438.8 35.7 435 35.8 431.2 36.9 428.2 38.6 426 40.8 424.5 42.9 418 55.3 413 62.8 411 66.9 410.2 67.5 409.5 67.6 400.5 67.7 400.5 20.8Z" fill="#1a9481"/>
<path d="M401.2 20.8L510 20.8 510 125 478.8 125 478.7 120.5 479.2 118.8 481.6 116.8 491.4 110 494.3 107 496.6 103.3 497.9 99.6 498.5 95 498.3 90.5 497.1 86.8 495.4 83.8 493.4 81.5 490.5 79.3 487.7 77.8 481.5 75.8 471.8 74.4 465.8 72.9 459 70.1 454.8 67.3 453 65 451.9 62 449.7 49.3 447.8 41.7 445.5 37.6 444 36 442.5 35 439.5 34 435.8 33.9 432 34.8 428.2 36.7 426 38.7 424.1 41 416.9 55.3 410.2 64.3 408.8 65 400.5 65.4 400.5 20.8Z" fill="#17a36e"/>
<path d="M401.2 20.8L510 20.8 510 125 481.5 125 481.1 120.5 481.8 119 495.5 109.3 497.6 107 500.1 103.3 500.9 101 502.4 93.5 502.3 89 501.4 85.3 499.5 82.3 497.3 80 494.1 77.8 490.5 76 485.2 74.2 480.8 73.2 472.5 72.6 468.8 71.8 460.5 68.8 456 65.9 454.5 64.3 453.3 61.3 450.5 44.8 449.4 40.3 448.4 38 447 35.7 445.5 34.1 444 33 441 31.9 435.8 31.7 431.2 33 427.5 35.1 425.2 37.1 423 40.2 416.2 54.5 414.8 56.9 412.5 59.5 408.8 62.4 405.8 62.9 400.5 63 400.5 20.8Z" fill="#14b45a"/>
<path d="M401.2 20.8L510 20.8 510 125 484.5 125 484.2 121.3 485 119.8 496.5 111.1 499.5 107.8 501.8 104.1 504.1 96.5 505.2 90.5 505.2 85.3 504.8 83.1 502.9 80.8 499.3 77.8 495 75 489.8 72.6 482.2 70.5 474 69.6 469.5 68.6 463.5 66.2 459.6 63.5 457.7 61.3 456.3 58.3 452.9 43.3 451.3 38 448.5 33.3 447 31.7 445.5 30.7 443.2 29.6 441.8 29.3 435.8 29.2 432.8 29.8 428.2 32 425.2 34.3 422.3 38 415.5 53 414 55.5 412.5 57.3 410.2 59.2 408 60.4 405.8 60.7 400.5 60.8 400.5 20.8Z" fill="#0ec644"/>
<path d="M401.2 20.8L510 20.8 510 125 487.8 125 487.8 122.8 488.1 121.3 494.2 115.5 498.8 110.2 501 107 503.4 101.8 505 96.5 506.9 84.5 506.6 83 504.2 80 496.5 73.8 489 69.5 482.2 67.1 470.2 64.9 466.9 63.5 464.2 61.9 462.2 59.8 460.4 56.8 456.5 43.3 455 39.5 453 35.8 450.2 32 447.8 29.5 444.8 27.4 441.8 26.3 437.2 26.2 432.8 27 429.7 28.4 426 30.8 423.1 33.5 421.1 36.5 419.2 40.2 414.6 51.5 411.8 55.7 409.5 57.7 408 58.6 400.5 58.5 400.5 20.8Z" fill="#08d82e"/>
<path d="M401.2 20.8L429.6 20.8 428.9 23.8 427.9 26.1 422.7 30.6 420 34.5 418 38.8 414.1 49.3 412.6 52.3 409.5 55.8 408 56.8 407.2 56.9 400.5 56 400.5 20.8ZM444.8 20.8L510 20.8 510 68.9 504.8 69.1 496.5 69.9 495 69.4 483.8 63.8 480.8 62.9 471 61.7 468.8 60.9 466.5 59.6 465.2 58.3 463.9 56 461.5 45.5 459.2 40.3 455.2 34.3 445.6 23.1 444.5 20.8ZM510 85.9L510 125 491.3 125 491.4 123.5 492 122 496.4 116 502.5 105.5 504.4 101 505.5 97.3 506.2 93 507.5 88.3 508.5 86.6 509.5 86Z" fill="#04e71c"/>
<path d="M401.2 20.8L422.4 20.8 422.1 23.8 421.3 26.8 416.6 36.5 412.5 48.7 410.2 52.3 408.8 53.8 407.2 54.7 403.5 53.7 400.5 53.3 400.5 20.8ZM476.3 35.8L478.5 35.9 480.8 36.6 482.9 38 484.2 39.5 485.4 41.8 486 44 486.2 47 485.9 50 484.5 53.8 482.2 56.9 481 57.5 477 58.4 471.8 58.3 468.8 57.1 468 56.5 467.4 55.3 466.8 50.8 466.6 42.5 467.2 40.7 469.5 38.4 472.5 36.6 475.8 35.8ZM510 96.8L510 125 494 125 495.5 121.3 498 116.8 499.4 112.3 502.9 106.3 504 103.7 506.2 100.3 508.2 99.5 509.6 97.3Z" fill="#01f40c"/>
<path d="M401.2 20.8L417 20.8 416.9 29.8 409.9 45.5 407.2 49.8 405.8 50.7 400.5 50.1 400.5 20.8ZM501 112.1L501 113.6 500.9 112.3ZM500.2 114.5L501 114.2 501.1 114.5 502.5 115 510 114.1 510 125 495.5 125 497 120.5 500.2 114.5Z" fill="#0af807"/>
<path d="M401.2 20.8L411.6 20.8 412 23.8 413.7 29.8 413.4 31.3 408.8 40.7 405.8 45.5 404.2 46.5 400.5 46.3 400.5 20.8ZM500.2 116.6L501.8 116.7 507 119.1 510 119.9 510 125 496.6 125.1 497.1 122 498.5 119.1 500.1 116.8Z" fill="#1ef40b"/>
<path d="M401.2 23.5L403.5 24.8 408.8 29 410.1 30.6 410.2 31.3 408.8 34.7 406.5 38.6 404.2 41.5 402.8 42 400.5 41.8 400.5 23.3ZM499.5 119L500.2 118.4 501.3 119.1 503 122 503.7 125 497.6 125 497.5 122.8 499.5 119Z" fill="#32f00f"/>
<path d="M498.8 122.8L498.7 122.8Z" fill="#46e913"/>
<path d="M463.2 125.1L463.4 122.8 464 119.8 464.9 116.8 465.6 115.3 468.6 111.6 474.8 105.5 476.8 102.5 477.6 100.3 477.8 98.8 477.7 95.8 477.2 94.3 476.2 92.2 475.5 91.3 471.8 88.6 468 86.6 450.8 78.4 446.9 76.3 444.7 74.8 443.2 73.3 441.5 70.3 440.2 67 438.6 60.5 437.6 57.5 436.5 55.3 435 53.8 433.5 53.3 430.5 53.3 429 53.8 426.8 55.3 424.5 57.4 422.1 60.5 414.1 73.3 412.5 75.3 409.5 77.3 406.5 78.7 403.5 79.6 400.5 79.9M473.6 125L473.8 119.8 474.1 118.3 474.5 117.5 477.8 114.4 484 110.8 486.8 108.9 489 106.5 490.5 104 491.5 101 492.2 98.1 492.3 96.5 491.6 92 490.5 88.3 489.7 86.8 488.1 84.5 486.3 83 483.8 81.5 477.8 79.7 466.5 77.6 463.5 76.7 453.8 72.1 451.5 70.5 450.2 68.8 449.3 66.5 447.7 59 447.3 55.3 446.5 50.8 445.5 47 444 43.1 442.5 40.9 441 39.4 440.2 38.8 438.8 38.2 435.4 38 432.6 38.8 429.6 40.3 426.8 43 424.5 46.3 419.8 54.5 416.2 59.8 414.2 63.5 411.8 69.1 411 69.7 410.2 69.9 400.5 70.1M482.9 125L482.5 120.6 483 119.6 486.8 116.8 493.5 112.3 496.4 110 499.5 106.6 501 104.3 502 101.8 503.7 95 504.5 89.8 504 84.5 502.8 82.3 500.5 80 497.4 77.8 493.5 75.5 489 73.8 485.2 72.7 480.8 71.8 473.2 71.4 468.5 70.3 462 68 459.3 66.5 456.8 64.7 455.2 62.9 454.5 61 451.7 44.8 450.4 39.5 449.5 37.3 448.5 35.5 446.2 32.7 444.8 31.7 442.5 30.8 440.2 30.5 436.5 30.5 434.2 30.7 432.8 31.2 429.8 32.5 428.2 33.4 425.2 35.7 422.9 38.8 420.9 42.5 415.5 54.5 413.2 57.7 410.2 60.3 408 61.5 405.8 61.8 400.5 61.9M422.4 20.8L422.1 23.8 421.3 26.8 416.6 36.5 413.2 46.7 412.5 48.7 411 51.4 408.8 53.8 407.2 54.7 403.5 53.7 400.5 53.3M494 125L495.5 121.3 498 116.8 499.4 112.3 502.9 106.3 504 103.7 505.5 101.4 506 101 506.2 100.3 508.2 99.5 508.9 98.8 509.2 97.6 510 96.8M476.3 35.8L478.5 35.9 480.8 36.6 482.9 38 484.2 39.5 485.4 41.8 486 44 486.2 47 485.9 50 484.5 53.8 483.7 55.3 482.2 56.9 481 57.5 477 58.4 471.8 58.3 468.8 57.1 468 56.5 467.4 55.3 466.8 50.8 466.6 42.5 467.2 40.7 469.5 38.4 472.5 36.6 475.8 35.8M400.5 29.6L402.8 29.8 405.5 30.6 407.3 31.3 407.7 32 407.3 33.6 405.8 36.1 403.5 38.8 402.8 39.1 400.5 38.7M498.5 125.1L498 124.3 498 122.6 498.7 121.1 499.5 120.1 500.2 120.1 501.1 122 501 125" fill="none" stroke="#1a2a1a" stroke-width="0.55" stroke-opacity="0.85"/>
</g>
<text x="407.5" y="41" font-size="5.2" fill="#111" text-anchor="middle" font-family="Liberation Serif, Times New Roman, serif">47</text>
<text x="410.2" y="48.4" font-size="5.2" fill="#111" text-anchor="middle" font-family="Liberation Serif, Times New Roman, serif">40</text>
<text x="427.5" y="42.7" font-size="5.2" fill="#111" text-anchor="middle" font-family="Liberation Serif, Times New Roman, serif">26</text>
<text x="434.6" y="60.8" font-size="5.2" fill="#111" text-anchor="middle" font-family="Liberation Serif, Times New Roman, serif">19</text>
<text x="466.5" y="55.2" font-size="5.2" fill="#111" text-anchor="middle" font-family="Liberation Serif, Times New Roman, serif">40</text>
<text x="474" y="113.6" font-size="5.2" fill="#111" text-anchor="middle" font-family="Liberation Serif, Times New Roman, serif">33</text>
<text x="481.4" y="120.1" font-size="5.2" fill="#111" text-anchor="middle" font-family="Liberation Serif, Times New Roman, serif">40</text>
<text x="498.6" y="120.1" font-size="5.2" fill="#111" text-anchor="middle" font-family="Liberation Serif, Times New Roman, serif">47</text>
<g clip-path="url(#cB1)">
<rect x="66.5" y="151.5" width="106.0" height="106.0" fill="#3737f0"/>
<path d="M67.2 151.5L173 151.5 173 258 66.5 258 66.5 151.5ZM156.4 244.5L157 246 159.8 249.8 163.5 253.5 165.5 254.7 167 255.2 168.5 255.2 169.2 254.9 169.9 254.2 170.1 252.8 169.7 251.2 168.5 249.4 167 248 164 246.2 159.5 244.3 157.2 243.8 156.5 244.2Z" fill="#2828f5"/>
<path d="M67.2 151.5L173 151.5 173 242.3 158.8 239 147.5 237.8 146.8 238.5 147.1 239.2 150.7 245.2 155 254.2 157.2 258 66.5 258 66.5 151.5Z" fill="#1919f8"/>
<path d="M67.2 151.5L173 151.5 173 233.5 168.5 234.4 166.2 234.5 155.8 233.6 150.5 233.6 146.8 234.2 144.5 235.5 143.7 237 143.7 238.5 148 251.2 148.4 254.2 148.3 258 66.5 258 66.5 151.5Z" fill="#0f0ffa"/>
<path d="M67.2 151.5L173 151.5 173 230.2 167.8 229.9 157.2 228.3 152 228.1 149 228.5 146.8 229.1 144.5 230.2 143 231.4 141.6 233.2 141 234.8 140.5 238.5 141 242.2 143.9 252.8 144.6 258 66.5 258 66.5 151.5Z" fill="#0505f5"/>
<path d="M67.2 151.5L173 151.5 173 227.6 170.8 227 163.1 224.2 153.4 222 142.2 222 139.7 222.8 138.4 223.5 137 225.5 136.2 227.6 136.1 234.8 137.8 244.5 141 255.8 141.4 258 66.5 258 66.5 151.5Z" fill="#0014e8"/>
<path d="M67.2 151.5L173 151.5 173 226.1 158 221.2 153.5 220.1 149 219.5 140.8 219.6 137.8 220.6 135.7 222 134.3 224.2 133.6 226.5 134.1 235.5 136.2 245.9 139.4 255.8 139.7 258 66.5 258 66.5 151.5Z" fill="#002dd2"/>
<path d="M67.2 151.5L173 151.5 173 225 171.5 224.7 164 221.7 157.2 219.4 149 217.5 140.8 217.3 136.2 218.4 133.2 220.3 132.2 222 131.1 225.8 131.8 232.5 134.1 243.8 137.9 255.8 138.3 258 66.5 258 66.5 151.5Z" fill="#0046b6"/>
<path d="M67.2 151.5L173 151.5 173 224 170.8 223.4 157.2 217.2 149.8 214.6 144.5 213.5 140.8 213.1 137.8 213.2 134.8 213.8 131.8 215.4 129.9 217.5 128.7 220.5 128.4 225 130 234 131.6 240.8 136.2 255.8 136.7 258 66.5 258 66.5 151.5Z" fill="#006298"/>
<path d="M67.2 151.5L173 151.5 173 223.1 169.9 222 155 213.6 144.5 209 138.8 207 132.5 205.5 129.5 205.3 126.5 205.6 124.2 206.8 122.9 209.2 122.5 211.5 122.5 215.2 124.6 224.2 130.5 243.8 134.5 255.8 135 258 66.5 258 66.5 151.5Z" fill="#007884"/>
<path d="M67.2 151.5L173 151.5 173 222.1 170.3 221.2 155 211.3 140.8 203.8 135.5 201.9 131 200.8 126.5 200.5 123.4 201 121.2 202 119.8 203.1 118.3 204.8 117.5 206.2 116.6 210 116.9 215.2 118 219.8 119.8 225 129.5 247.1 132.8 255.8 133.3 258 66.5 258 66.5 151.5Z" fill="#008c73"/>
<path d="M67.2 151.5L173 151.5 173 220.9 171.5 220.6 170.1 219.8 163.5 215.2 156.5 209.8 147.5 203.8 138.5 198.8 130.5 195.8 123.5 194 112.2 193.1 108.5 193.5 107.8 194.4 107.4 195.8 107 201 107.8 206.6 110 214.6 112.2 220.1 119.8 235.2 122 239.2 124.9 243 126.5 246 131 255.8 131.5 258 66.5 258 66.5 151.5Z" fill="#00a555"/>
<path d="M67.2 151.5L173 151.5 173 218.2 171.5 217.7 170 216.7 144.5 198.6 140 196 134.8 193.5 128 191.1 122 189.9 113 189.3 110 189.6 107.8 190.2 106.1 191.2 104.9 192.8 104 195 103.6 197.2 103.4 201 103.6 204 104.2 207.8 105.2 211.5 108.4 219 117.9 237 124.9 248.2 128.5 255.8 129.2 258 66.5 258 66.5 151.5Z" fill="#00c337"/>
<path d="M67.2 151.5L173 151.5 173 214.7 170.8 213.8 161.8 207.9 142.2 193.8 134 189.4 127.2 187.1 120.5 186 113 186.1 107.8 187.3 105.5 188.5 103.4 190.5 101.9 192.8 101 195 100.3 198.8 100.1 202.5 100.4 206.2 101.1 210 102.4 213.8 104.2 217.5 110.8 227.9 116.8 239.2 122.8 249 126 255.8 126.6 258 66.5 258 66.5 151.5Z" fill="#00e119"/>
<path d="M67.2 151.5L173 151.5 173 211.2 170.8 210.4 160.2 204.2 154.8 200.2 142.2 189.9 137.8 187 133.2 184.8 126.5 182.7 119.8 182 113 182.3 107 184 104 185.6 101.7 187.5 99.3 190.5 97.9 193.5 96.9 197.2 96.4 201.8 96.5 206.2 97.1 210 98.3 213.8 99.8 216.8 108.8 228.8 114.7 240 120 248.2 122.9 254.2 124.2 258 66.5 258 66.5 151.5Z" fill="#00fa00"/>
<path d="M67.2 151.5L173 151.5 173 207.8 171.5 207.5 166.2 205.1 159.5 201.1 154.8 197.2 142.2 185.3 137 181.8 132.5 179.6 126.5 177.9 119 177.6 111.5 178.3 107.8 179.4 104.8 180.6 101 182.8 98.1 185.2 95.8 188.2 94.3 191.2 93.2 195 92.5 199.5 92.2 207 92.7 211.5 93.9 215.2 95.8 218.2 98.5 221.2 105.5 227.9 107.8 230.9 112.6 240.8 119 250.8 120.9 255 121.7 258 66.5 258 66.5 151.5Z" fill="#0af200"/>
<path d="M67.2 151.5L173 151.5 173 204.4 170 203.7 167 202.6 164 201 159.6 198 154.3 192.9 146.5 183.8 143.8 181.1 140.8 178.6 136 175.5 131 173.1 127.2 172.7 120.5 172.9 117.5 173.3 110.8 173.6 106.7 174.8 101 177.1 96 180 92.6 183 90.5 186 89.4 189 88.6 192.8 88.3 201.8 87.7 206.2 86.6 210.8 86.6 213.8 87.5 216.7 89 219 91.3 221.2 102.5 228.7 104.8 230.7 106.2 233 108.8 239.2 110.7 243 116.2 250.5 118.4 255 119 258 66.5 258 66.5 151.5Z" fill="#1eec00"/>
<path d="M67.2 151.5L173 151.5 173 200.4 170.8 199.8 167 198 161 194 156.5 189.8 148.2 180.7 143.2 176.2 136.9 172.5 131.8 170.5 126.5 169.9 110.8 170.5 101 172.2 96.5 173.7 92.8 175.7 89.8 178.3 87.4 181.5 85.6 186 84.8 190.5 84.7 195.8 85.6 204 85.3 206.2 83.7 211.5 83.7 213.8 84.3 216.8 85.8 219.8 88.2 222.8 98.5 231 102.2 234.8 112.7 252 115 256.5 115.4 258 66.5 258 66.5 151.5Z" fill="#37eb00"/>
<path d="M67.2 151.5L173 151.5 173 196.5 171.5 196.1 167.8 194.1 161.8 190 157.6 186 150.5 178 146 174.3 140 170.9 133.2 168.4 127.2 167.5 115.2 167 105.5 167.7 95 167.7 91.2 168.7 88.2 170.2 86 172.1 83.8 175.1 81.4 180.8 80.4 186.8 80.4 192 81 197.2 81.8 200.2 83.5 203.2 83.8 204.8 83.3 206.2 81.7 208.5 80.9 210.8 80.8 213.8 81.5 217.5 83.3 221.2 85.6 224.2 88.2 226.9 96.3 234 100.2 238.5 107.9 250.5 110.7 255.8 111.5 258 66.5 258 66.5 151.5Z" fill="#50eb00"/>
<path d="M83.8 151.5L173 151.5 173 192.5 171.5 192.1 168.5 190.6 163.2 187 159.1 183 154.2 176.6 152 174.2 148.8 171.8 144.5 169.4 137.8 166.8 131.8 165.5 124.2 164.7 106.2 164.3 100.2 163.2 89.8 159.2 86.4 157.5 84.3 155.2 83.5 153.8 83.1 151.5ZM69.5 165.7L71.8 166.1 73.2 167.1 74.4 168.8 75 171 75 174 73.9 180 73.8 182.2 75.7 191.2 77.6 204 77 212.2 77.4 216 78.4 219 80.3 222.8 83.2 226.5 93.6 236.2 98 241.2 104.2 250.5 106.9 255.8 107.5 258 66.5 258 66.5 166 69 165.8Z" fill="#6eec00"/>
<path d="M96.5 151.5L173 151.5 173 188.7 171.5 188.4 169.2 187.4 164.8 184.2 160.2 179.5 156 171.8 153.5 169.6 150.6 168 144.5 165.6 134.8 163 128.8 162.4 125.8 161.8 115.8 161.2 113 160.7 107.8 160.4 104.6 159.8 100.7 158.2 98.8 156.8 97.2 154.4 96.4 151.5ZM67.2 170.7L68.8 171.8 69.2 173.2 68.8 174.3 68 175.1 66.5 175.6 66.5 170.6ZM67.2 188.8L69.5 189.9 70.2 190.7 71.2 192.8 72.1 210 72.9 215.2 74.8 221.4 77.8 225.8 81.8 230.2 91.1 238.5 94.5 242.2 101.1 251.2 103 255 103.9 258 66.5 258 66.5 188.7Z" fill="#96f000"/>
<path d="M122.8 151.5L173 151.5 173 185.9 171.5 185.5 169.2 184.2 164.8 180.5 161.8 177.1 157.5 170.2 154.2 167.4 151.2 165.6 146.8 163.6 131.3 159 127.6 157.5 125.2 156 123.7 154.5 122.9 153 122.6 151.5ZM67 202.5L68 204.9 70.1 217.5 71.2 220.5 72.8 223.5 77.8 229.9 83.2 235.5 89.6 241.5 94.2 246.8 99.1 253.5 100.6 256.5 101 258 66.5 258 66.5 201.9Z" fill="#bef500"/>
<path d="M128 151.5L173 151.5 173 183.3 171.5 182.9 170 182 165.7 178.5 163.2 175.6 158.8 169 154.2 165 148.2 161.8 137 157.7 132.5 155.8 129.2 153.8 128 152.4 127.6 151.5ZM66.8 219.7L68 220.9 72.4 227.2 76.2 231.9 89 244.8 92.8 249 96.5 254.3 97.8 256.5 98.2 258 66.5 258 66.5 219.5Z" fill="#dcf800"/>
<path d="M133.2 151.5L173 151.5 173 180.8 170.8 179.8 167 177 165 174.8 160.2 167.9 157.2 164.8 154.2 162.4 149 159.5 136.4 154.5 133.8 153 132.7 151.5ZM67.2 224.9L77.8 237.4 91.2 251 94.6 255.8 95.4 258 66.5 258 66.5 224.6Z" fill="#f5fa00"/>
<path d="M138.5 151.5L173 151.5 173 178.2 170.8 177.4 167.8 175.3 166.2 173.5 163.9 169.5 161.8 166.6 155 159.9 150.5 157.3 140.7 153.8 138.5 152.4 137.9 151.5ZM67.2 229.3L79.2 243 89.8 252.8 91.9 255.8 92.7 258 66.5 258 66.5 229Z" fill="#fff200"/>
<path d="M144.5 151.5L173 151.5 173 174.9 171.5 174.8 169.1 173.2 164.5 165.8 157.1 157.5 153.5 155.2 145.2 152.4 143.9 151.5ZM67.2 234.3L77.8 246.5 88.2 255.5 88.9 256.5 89.1 258 66.5 258 66.5 234Z" fill="#ffe400"/>
<path d="M160.2 151.5L173 151.5 173 163.7 171.5 162.9 167 158.1 161.2 153 160 151.5ZM67.2 249.5L73.9 256.5 74.6 258 66.5 258 66.5 249.2Z" fill="#fcd405"/>
<path d="M142.7 152C144.7 152.7 151.6 154.2 154.6 155.9C157.6 157.6 158.7 159.9 160.5 161.9C162.3 163.9 164.2 165.8 165.5 167.8C166.8 169.8 167.4 172.4 168.5 173.7C169.6 175 171.4 175.4 172 175.7M67 233.3C67.9 234.4 70.6 237.5 72.4 239.6C74.2 241.7 75.7 243.9 77.6 245.8C79.5 247.7 82 249.4 83.9 251C85.8 252.6 88 254.2 89 255.2C90 256.2 89.8 256.7 90 257M95.7 152C96.2 153 96.9 156.4 98.6 157.9C100.2 159.4 102.8 160.3 105.6 160.9C108.4 161.5 112 161.5 115.5 161.7C119 161.9 123 162 126.9 162.3C130.8 162.7 134.2 162.6 138.8 163.8C143.4 165.1 151 167.2 154.6 169.8C158.2 172.5 158.5 177.1 160.5 179.7C162.5 182.3 164.6 184.1 166.5 185.6C168.4 187.1 171.1 188.1 172 188.6M67 188.6C67.7 188.9 70.1 189.1 70.9 190.6C71.7 192.1 71.8 195.1 71.9 197.5C72 199.9 71.2 201.5 71.5 205C71.8 208.5 72.5 215.2 73.5 218.8C74.5 222.2 75.7 223.6 77.6 226C79.5 228.4 82.6 231.2 84.9 233.3C87.2 235.4 89.3 236.6 91.2 238.5C93.1 240.4 94.7 242.6 96.4 244.8C98.1 247.1 100.4 250 101.6 252C102.8 254 103.3 256.2 103.7 257M67 170.8C67.3 171.1 68.8 172.2 68.8 172.8C68.8 173.5 67.3 174.4 67 174.7M119.3 257C118.8 255.8 117.8 252.6 116.2 250C114.7 247.4 111.7 244.8 110 241.7C108.3 238.6 107.7 233.9 105.8 231.2C103.8 228.6 101.3 227.9 98.5 226C95.7 224.1 91.1 222.1 89 219.8C86.9 217.6 86.2 215 86 212.5C85.8 210 87.2 208.5 87.7 205C88.2 201.5 88 195.2 88.7 191.6C89.4 188 89.9 185.9 91.7 183.6C93.5 181.3 96.6 179.3 99.6 177.7C102.6 176 106.9 174.4 109.5 173.7C112.1 173 111.8 173.6 115 173.3C118.2 173.1 125.3 171.8 128.9 172.2C132.5 172.6 134.2 174.1 136.8 175.7C139.4 177.3 142.4 179.5 144.7 181.7C147 183.8 148.3 186 150.6 188.6C152.9 191.2 155.9 195.2 158.6 197.5C161.2 199.8 164.3 201.3 166.5 202.5C168.7 203.7 171.1 204.1 172 204.4M131.7 257C130.6 254.8 127 246.6 125.4 243.8C123.8 240.9 123.2 242 122 240C120.8 238 119.6 235.4 117.9 232C116.2 228.6 113.4 223.4 111.7 219.6C110 215.8 108.8 212.3 107.9 209.2C107 206.1 106.6 203.6 106.5 200.8C106.4 198 105.8 193.8 107.5 192.5C109.2 191.2 113.7 192.7 117 193C120.3 193.3 123.3 193.5 127.3 194.6C131.3 195.7 136.1 197.4 140.8 199.8C145.5 202.2 151.2 206.2 155.4 209.2C159.6 212.1 163 215.4 165.8 217.5C168.6 219.6 171 221 172 221.7" fill="none" stroke="#1a2a1a" stroke-width="0.55" stroke-opacity="0.85"/>
</g>
<g clip-path="url(#cB2)">
<rect x="237.0" y="150.7" width="107.5" height="107.3" fill="#3737f0"/>
<path d="M237.8 150.7L345 150.7 345 258.7 237 258.7 237 150.7ZM291.2 202.4L300.5 215.2 306.2 224.9 309.2 232.5 312 244.1 313 246.7 315 248.5 318 249.4 320.2 249 323.2 247.4 326.2 244.7 328.1 241.4 328.3 239.9 328 238.4 326 234.7 315.4 221.2 304.4 209.2 302.2 207.3 299.2 205.4 295.3 203.2 291.8 201.8Z" fill="#2828f5"/>
<path d="M237.8 150.7L345 150.7 345 240.4 342.8 239.8 339.8 238.1 331.5 231.7 324 224.7 309.8 209.9 304.8 205.4 301.4 203.2 297 201.1 293.2 199.8 291 199.7 289.7 200.2 289.1 200.9 288.8 202.4 289.1 203.9 290.6 207.7 296.8 220.4 298.5 224.9 299.3 228.7 299.3 233.2 298.1 236.9 296.4 239.2 292.5 241.8 291.7 242.9 292.3 244.4 296.4 248.2 298.3 251.2 298.7 253.4 298.2 258.7 237 258.7 237 150.7Z" fill="#1919f8"/>
<path d="M237.8 150.7L345 150.7 345 225.9 342 227.3 339.8 227.6 336.8 227.2 333.8 226 330 223.8 326.2 220.9 311.2 206.5 305.2 201.8 300.9 199.4 297 198.1 293.2 197.5 290.2 198 288 199.4 287 200.9 286.4 203.2 286.4 205.4 287.6 210.7 291.7 221.9 293.1 227.2 293.5 230.9 293.1 234.7 292.2 237.7 290.5 241.4 290.2 242.9 290.9 245.2 293.7 249.7 294.6 251.9 295.2 254.9 295.4 258.7 237 258.7 237 150.7Z" fill="#0f0ffa"/>
<path d="M237.8 150.7L345 150.7 345 222.4 340.5 222.7 338.2 222.4 335.2 221.5 331.5 219.6 324.8 214.4 311.3 201.7 308.2 199.4 304.5 197.2 300.8 195.7 297 194.9 293.2 194.8 290.2 195.3 287.2 196.8 284.6 199.4 283.1 203.2 282.7 207.7 283.8 213.7 287.5 224.9 288.6 229.4 289.1 234.7 288.7 241.4 288.8 243.7 291.9 252.7 292.7 258.7 237 258.7 237 150.7Z" fill="#0505f5"/>
<path d="M237.8 150.7L345 150.7 345 219.7 341.2 219.3 338.2 218.6 335.2 217.4 332.2 215.6 324.4 209.2 313.5 198.3 310.5 196 306.8 193.8 302.2 192 297.8 191.2 293.2 191.4 288.8 192.5 284 194.9 282.3 196.4 280.4 198.7 279.1 200.9 278.3 203.2 277.8 205.4 277.7 208.4 278.1 212.2 279.1 215.9 283.5 227.2 285.3 233.2 287 243.7 289.5 253.4 290.2 258.7 237 258.7 237 150.7Z" fill="#0014e8"/>
<path d="M237.8 150.7L345 150.7 345 217.2 342 216.6 337.5 215 333.2 212.2 325.5 205.4 315 193.9 312.7 191.9 309 189.7 305.2 188.2 300 187.1 295.5 187.2 287.8 188.9 282.5 191.2 279.8 192.7 275.2 196.5 273.8 198.3 272.2 201.3 271.4 204.7 271.2 206.9 271.5 210.5 273 215.7 275.2 220.6 280.1 229.4 283.1 236.9 285.7 246.7 287.9 258.7 237 258.7 237 150.7Z" fill="#002dd2"/>
<path d="M237.8 150.7L345 150.7 345 215.3 342.8 214.8 338.3 213.1 333.8 210.3 328.3 205.4 315.8 191.2 313.5 189.3 309.8 187.1 303.7 185.2 297.8 184.9 291 185.9 284.2 188.1 280.5 189.9 277.1 191.9 272.1 196.4 270.6 198.7 269.3 201.7 268.7 204.7 268.5 207.7 269 211.4 270.5 215.9 278.4 230.9 281.5 238.4 283.9 246.7 286 258.7 237 258.7 237 150.7Z" fill="#0046b6"/>
<path d="M237.8 150.7L345 150.7 345 213.6 342.8 213.1 338.2 211.4 333 207.9 330.3 205.4 327.7 202.4 318 190.1 314.2 186.8 310.5 184.8 304.5 183.1 298.5 182.9 290.2 184.3 283.5 186.5 279.8 188.4 276 190.7 273 193 270.2 195.7 268.6 197.9 267.1 200.9 266.3 203.9 266.1 206.9 266.7 211.4 268.3 215.9 275.9 229.4 279.5 237.7 282.6 248.2 284.1 255.7 284.4 258.7 237 258.7 237 150.7Z" fill="#006298"/>
<path d="M237.8 150.7L345 150.7 345 211.8 342.8 211.4 338.7 209.9 336 208.4 333.1 206.2 328.6 200.9 319.5 187.9 315.8 184.5 312.8 182.8 308.2 181.4 303.8 180.6 301.5 180.6 296.2 181.1 291.8 182 286.5 183.4 281.2 185.5 277.5 187.6 273 190.6 269.4 193.5 267.2 195.7 265.6 197.9 264.2 200.9 263.4 203.9 263.3 206.9 264.1 211.4 265.9 215.9 273.8 228.8 277.3 236.2 280.4 245.9 281.9 252.7 282.9 258.7 237 258.7 237 150.7Z" fill="#007884"/>
<path d="M237.8 150.7L345 150.7 345 209.8 342.7 209.3 339 207.8 334.5 204.7 329.2 198.6 323.2 188.9 320.2 185 317.2 182.2 313.5 180.3 310.5 179.3 305.8 178.4 300.8 178.3 291 179.9 282 182.9 277.5 185.2 272.9 188.2 267.7 191.9 265.2 194.2 264 195.7 261.8 199.7 261 202.4 260.8 205.4 261.1 209.9 262.5 214.2 265.7 219.7 272.6 230.2 275.6 236.2 279 246.7 281.5 258.7 237 258.7 237 150.7Z" fill="#008c73"/>
<path d="M237.8 150.7L345 150.7 345 207.7 342.8 207.1 339 205.3 334.5 201.9 329.8 196.4 324.8 188 321.8 183.9 318.8 181.1 314.2 178.5 311.2 177.5 306.8 176.6 300 176.3 294.8 177 290.2 178 285 179.6 281.2 181.1 276.8 183.5 273 185.9 267 190.2 264 192.9 261.7 195.7 260 198.7 259.1 201.7 258.8 204.7 259.2 209.9 260.8 214.4 264.3 220.4 271 230.2 274.3 236.9 277.7 247.5 279.9 256.4 280.2 258.7 237 258.7 237 150.7Z" fill="#00a555"/>
<path d="M237.8 150.7L345 150.7 345 205.5 343.5 205.1 339.8 203.4 335.2 200.2 330.6 194.9 326 186.7 322.7 182.2 318.8 178.7 314.2 176.4 310.5 175.2 306 174.4 302.2 174.1 298.5 174.3 294 174.9 288.8 176.2 284.2 177.7 279.8 179.7 271.5 184.7 264.8 189.7 261.5 192.7 259.2 195.7 257.7 198.7 256.9 201.7 256.6 204.7 257.3 209.9 259.3 215.2 263 221.2 269.4 230.2 272.8 236.9 276.8 248.9 278.7 256.4 279 258.7 237 258.7 237 150.7Z" fill="#00c337"/>
<path d="M237.8 150.7L345 150.7 345 203.1 343.5 202.9 340.5 201.6 338.2 200.4 336 198.6 331.3 193.4 327.8 185.8 324.1 180.7 321.8 178.4 319.5 176.6 314.2 174 309.8 172.8 305.2 172.1 297.8 172 293.2 172.8 287.2 174.3 282.8 176 278.2 178.3 271.5 182.3 259.3 191.9 256.9 194.9 255.4 197.9 254.5 200.9 254.1 203.9 254.8 209.2 256.9 214.4 259 218.2 267.8 230.2 270 233.9 271.4 236.9 276 250.9 277.5 256.4 277.7 258.7 237 258.7 237 150.7Z" fill="#00e119"/>
<path d="M237.8 150.7L345 150.7 345 200.2 343.5 200.1 340.3 198.7 338.2 197.4 336 195.3 333 191.9 330.3 185.2 327 180.1 324.1 176.9 321.4 174.7 316.5 172.1 313.5 171.1 306 169.6 297.8 169.4 288.8 171.2 285.8 172.1 281.2 174.1 270.8 180.2 265.6 184.4 258 189.9 255.2 192.7 253.6 195 252.2 197.9 251.3 201.7 251.5 207 252.6 210.7 254.2 214.4 257.1 218.9 266.3 230.9 269.2 236 273.5 247.4 276 255.7 276.4 258.7 237 258.7 237 150.7Z" fill="#00fa00"/>
<path d="M237.8 150.7L345 150.7 345 190.4 343.5 189.8 342 188.6 331.9 178.4 326.4 173.9 321 170.7 314.2 168.1 305.2 166.2 300.8 165.9 296.2 166 291.8 166.8 287.2 168.1 283.5 169.7 279 172.2 270.8 177.9 264 183.1 258 187.1 253.3 191.2 251.4 193.4 249.6 196.4 248.6 199.4 248.1 203.2 248.2 206.2 248.8 209.2 251.4 215.2 253.9 218.9 264.8 232.5 268 237.7 271.7 246.7 274.8 256.4 275.1 258.7 237 258.7 237 150.7Z" fill="#0af200"/>
<path d="M237.8 150.7L345 150.7 345 180 343.5 179.4 336.3 174.7 330.9 171.7 324 168.4 317.2 165.8 310.5 163.7 304.5 162.4 299.2 161.9 294 162.3 287.2 164.1 284.2 165.5 280.5 167.7 276.8 170.5 266.2 179.3 253.1 188.2 249.8 191.2 247.4 194.2 245.5 197.9 244.5 202.4 244.6 207 245.9 211.4 247.3 214.4 249.3 217.4 263.2 233.9 267 239.4 270.3 246.7 273.5 256.4 273.7 258.7 237 258.7 237 150.7Z" fill="#1eec00"/>
<path d="M237.8 150.7L345 150.7 345 170.9 327.8 165.9 309.8 159.7 304.5 158.2 297.8 157.4 294 157.7 291 158.2 285.8 160.1 280.5 163.3 276 167.3 269.2 174.7 266.2 177.4 249.9 187.4 245.4 191.2 242.8 194.2 240.7 198.7 239.6 203.9 240.3 208.4 241.9 212.9 244.4 216.7 261.8 235.1 266.2 241.1 269.2 247.7 272.1 256.4 272.3 258.7 237 258.7 237 150.7Z" fill="#37eb00"/>
<path d="M237.8 150.7L345 150.7 345 161.5 335.2 162.4 331.5 162.4 327 161.7 319.5 159.5 307.1 154.4 301.5 152.7 292.5 152.4 287.2 153.7 285 154.7 281.7 156.7 277.5 160.2 271.5 167.7 267.6 173.2 264.6 176.2 249.8 184.1 237 191.8 237 150.7ZM237.8 217L244.5 221.6 248.7 224.9 260.6 236.9 263.7 240.7 265.8 243.7 267.8 248 270.6 256.4 270.8 258.7 237 258.7 237 216.7Z" fill="#50eb00"/>
<path d="M237.8 150.7L284.5 150.7 283.7 151.4 278.2 154.7 275.1 157.4 271.5 161.6 264.8 170.7 261 174.3 256.9 176.9 239.2 186.8 237 187.7 237 150.7ZM308.2 150.7L335.4 150.7 334.2 152.9 331.5 155 328.5 156.1 324.8 156.6 322.5 156.5 319.5 155.6 310.7 152.2 308 150.7ZM237.8 220.1L243 223.4 247.5 227.1 261 240.7 263.8 244.4 265.7 248.2 268.9 256.4 269.2 258.7 237 258.7 237 219.9Z" fill="#6eec00"/>
<path d="M237.8 150.7L276.5 150.7 275.5 152.2 270 157.5 262 168.7 258.8 172.1 253.9 175.4 239.2 183.7 237 184.5 237 150.7ZM319.5 150.7L327.4 150.7 326 152.2 323.2 153.1 321.8 152.8 320.6 152.2 319.1 150.7ZM237.8 222.3L242.2 225.3 247.5 229.7 255 236.9 259.1 241.4 261.8 245.2 264.3 249.7 267.2 256.4 267.6 258.7 237 258.7 237 222.2Z" fill="#96f000"/>
<path d="M237.8 150.7L269.9 150.7 269.1 152.2 264.8 158 258.7 167.9 256.8 170.2 252.8 173.1 246.8 176.1 239.2 180.6 237 181.4 237 150.7ZM237.8 224.6L241.6 227.2 247 231.7 257.4 242.2 260.5 246.7 263.2 251.5 265.6 256.4 266 258.7 237 258.7 237 224.4Z" fill="#bef500"/>
<path d="M237.8 150.7L262.7 150.7 262.5 152.2 255.8 166 254.3 167.9 251.2 170.1 245.2 172.9 238.8 176.9 237 177.4 237 150.7ZM237.8 226.7L245.8 233.2 250.5 237.6 256.1 243.7 259.8 248.9 262.8 254.2 264.3 257.2 264.5 258.7 237 258.7 237 226.5Z" fill="#dcf800"/>
<path d="M237.8 150.7L246 150.7 245.1 152.9 239.2 162.1 237.8 164.1 237 164.5 237 150.7ZM237.8 228.4L243.8 233.3 249 238.2 255 244.9 258.8 250 262.4 255.7 263.1 257.2 263.3 258.7 237 258.7 237 228.1Z" fill="#f5fa00"/>
<path d="M237.8 229.8L244.4 235.4 252.9 244.5 260.7 254.9 261.9 257.2 262.1 258.7 237 258.7 237 229.5Z" fill="#fff200"/>
<path d="M237.8 231.2L243.6 236.2 251.2 244.4 259.5 254.9 260.7 257.2 260.7 258.7 237 258.7 237 231Z" fill="#ffe400"/>
<path d="M237.8 233.9L242.2 237.9 249 245.2 257.2 255.1 258 256.2 258.3 257.2 257.8 258.7 237 258.7 237 233.7Z" fill="#fcd405"/>
<path d="M237.5 178.2C238.8 177.4 242.5 175 245.4 173.4C248.3 171.8 252.7 170.6 254.8 168.8C256.8 166.9 256.9 164.6 257.9 162.5C258.9 160.4 260.1 158.1 261 156.2C261.9 154.4 262.9 152 263.3 151.2M237.5 191C238.6 190.4 241.9 188.7 244 187.5C246.1 186.3 247.7 185.2 250 184C252.3 182.8 255.3 181.4 257.9 180C260.5 178.6 263.3 177.9 265.7 175.8C268.1 173.7 269.9 169.9 272 167.2C274.1 164.5 275.9 161.6 278.2 159.4C280.5 157.2 283.5 155.1 286 153.9C288.5 152.7 290.3 152.5 293 152.3C295.7 152.1 299.3 152 302 152.5C304.7 153 306.2 154 309.2 155.2C312.3 156.4 316.5 158.5 320.1 159.8C323.7 161 327 162.1 331 162.5C335 162.9 341.8 162.1 344 162M319 151.2C319.7 151.6 321.6 153.5 323 153.5C324.4 153.5 326.9 151.6 327.7 151.2M276.5 257.5C276.4 257.2 276.6 258.1 276 256C275.4 253.9 273.9 248.5 272.6 244.7C271.3 240.9 270 236.8 268.1 233.4C266.2 230 263.6 227.4 261.3 224.3C259.1 221.2 256.2 217.8 254.6 214.9C253 212 252 209.5 251.5 207C251 204.5 251.1 202.2 251.5 200C251.9 197.8 252.8 195.8 254 194C255.2 192.2 257.2 190.5 259 189C260.8 187.5 263.2 186.3 265 185C266.8 183.7 267.7 182.3 269.5 181C271.3 179.7 273.4 178.4 276 177C278.6 175.6 281.7 173.7 284.9 172.5C288.1 171.3 291.8 170.5 295 170C298.2 169.5 300.3 169.1 304 169.5C307.7 169.9 313.8 171 317.3 172.4C320.8 173.8 322.9 176 325 178.1C327.1 180.2 328.5 182.4 329.8 184.8C331 187.2 331.2 190.2 332.6 192.4C334 194.6 336.4 196.8 338.3 198.2C340.2 199.6 343.1 200.5 344 201M237.5 217.6C239.2 218.7 244.6 221.7 247.8 224.3C251 226.9 253.8 230.2 256.8 233.4C259.8 236.6 263.6 239.7 265.9 243.5C268.2 247.3 269.5 253.7 270.4 256C271.2 258.3 270.9 257.2 271 257.5M237.5 226.6C239.2 228 244.6 232.2 247.8 235.2C251 238.2 254.2 241.2 256.8 244.7C259.4 248.2 262.4 253.9 263.6 256C264.9 258.1 264.2 257.2 264.3 257.5M237.5 232.2C238.8 233.5 243 237.5 245.5 240.1C248 242.7 250.1 245.3 252.3 248C254.6 250.7 257.7 254.4 259 256C260.3 257.6 259.8 257.2 260 257.5" fill="none" stroke="#1a2a1a" stroke-width="0.55" stroke-opacity="0.85"/>
</g>
<g clip-path="url(#cB3)">
<rect x="412.5" y="151.9" width="107.8" height="106.6" fill="#3737f0"/>
<path d="M413.2 151.9L520.5 151.9 520.5 258.7 516.5 255.4 514.4 253.2 512.5 250.1 509.8 243.4 508.1 240.4 504.5 235.9 498.4 229.2 490.9 221.7 474 206.7 459.2 191.7 457.4 190.2 456 189.6 454.8 190.2 454.5 191.7 457.5 197.1 467.2 210.6 477.1 221.7 483.9 229.9 488.7 236.7 491.6 241.9 493 246.4 493 249.4 491.6 252.4 488.1 256.9 487.7 259.1 412.5 259.1 412.5 151.9ZM423.4 163.2L422.7 163.9 422.7 165.4 424.2 167.7 426.8 169.9 431 172.9 432.8 173.7 433.8 173.7 434.1 172.9 433.5 171.5 429 166.5 426 163.6 424.5 162.9 423.8 163Z" fill="#2828f5"/>
<path d="M413.2 151.9L419 151.9 418.6 154.2 417.4 156.4 414.2 160.2 412.5 161.1 412.5 151.9ZM426.8 151.9L520.5 151.9 520.5 234 519 233.6 516 231.9 506.2 225 469.8 195.4 463.9 190.9 458.2 187.7 456 187.1 454.5 187.3 453 188.4 452.2 190.2 452.3 192.4 453.4 195.4 460.5 206.6 473.8 225.4 477.6 232.2 480.6 238.9 482.1 243.4 483 247.9 483.2 251.7 482.8 259.1 412.5 259.1 412.5 173.3 417 172.3 419.2 172.4 430.5 175.5 433.5 175.9 435.7 175.2 436.5 173.7 436.4 172.2 435.4 169.9 426.1 157.2 425.8 155.7 426.6 151.9Z" fill="#1919f8"/>
<path d="M429.8 151.9L520.5 151.9 520.5 222.8 515.2 220.7 507.8 216.8 501.8 212.6 489.1 202.9 471.6 190.9 463.3 186.4 455.6 182.6 450 180.3 445.5 177.9 441 173 435.5 165.4 432.2 159.4 429.6 151.9ZM421.5 178L430.5 178.1 437.2 179.3 439.5 180.1 442.5 181.7 445.5 185 447.5 188.7 449.9 194.7 452.2 199.2 465.5 220.2 470 228.4 472.2 234.4 474.4 241.9 478.6 259.1 412.5 259.1 412.5 179.3 415.5 179.1 421 178.2Z" fill="#0f0ffa"/>
<path d="M432 151.9L520.5 151.9 520.5 220 516 218.2 507.8 213.6 500.2 208.4 486 197.7 473.4 189.4 452.2 178.5 446.2 174.9 442.1 171.4 436.8 164.7 434 159.4 431.3 151.9ZM423 180.3L429.8 180.4 433.5 181.1 435.8 181.8 438 183.1 440.4 184.9 444.3 189.4 450.7 201.4 463 220.9 467.5 229.2 469.8 235.2 471.9 241.9 475.8 256.9 476.1 259.1 412.5 259.1 412.5 182 422.4 180.4Z" fill="#0505f5"/>
<path d="M432.8 151.9L520.5 151.9 520.5 218 517.5 217 507.8 211.4 501.8 207.3 486.8 196 475.5 188.7 468 184.5 451.5 176.5 446.2 173.4 441.8 169.2 437.2 163.4 435.3 159.4 433.2 154.2 432.7 151.9ZM420.8 182.5L429 182.3 434.2 183.5 438 185.8 442 190.2 444 193.4 448.9 202.9 453.9 211.1 462 223.4 465.9 230.7 468 235.9 469.7 241.1 473.6 256.1 474 259.1 412.5 259.1 412.5 184 420.1 182.7Z" fill="#0014e8"/>
<path d="M434.2 151.9L520.5 151.9 520.5 216.1 518.2 215.4 509.2 210.1 500 203.7 494.2 199 488.3 194.7 476.2 186.9 463.6 180.4 450.8 174.6 446.8 172.2 442.5 168.3 438.4 163.2 436.5 159.4 433.9 151.9ZM419.2 184.9L422.2 184.3 425.2 184.3 429 184.4 431.5 184.9 433.7 185.7 435.8 186.9 437.7 188.7 439.5 190.9 442.3 195.4 445.6 202.2 448.6 207.4 458.1 221.7 463.7 231.4 466.3 237.4 467.8 241.9 471.5 256.1 471.9 259.1 412.5 259.1 412.5 186 418.9 184.9Z" fill="#002dd2"/>
<path d="M435 151.9L520.5 151.9 520.5 214.5 518.2 213.7 510 209 501 202.4 489.8 193.5 480 187 475.5 184.4 467.2 180.4 451.5 173.6 447.8 171.3 443.2 167.5 439.7 163.2 437.7 159.4 435.2 153.4 434.9 151.9ZM419.2 187.1L425.2 186.7 430.5 187.6 432.7 188.6 435 190.1 438.3 193.9 441 198.1 447 209.7 455.7 222.4 461.8 232.9 464.4 238.9 466.4 244.9 469.4 256.9 469.6 259.1 412.5 259.1 412.5 188.3 418.8 187.2Z" fill="#0046b6"/>
<path d="M436.5 151.9L520.5 151.9 520.5 213.1 519 212.7 514.5 210.5 510 207.7 490.5 192.1 480 185.1 469.5 179.9 452.2 172.7 447 169.4 443.2 166.2 440.2 162.3 437.2 156.2 435.8 151.9ZM418.5 189.4L421.5 188.9 424.5 188.9 429.8 190.1 432 191.2 434.2 192.8 437.2 196.3 439.5 199.9 445.5 211.7 454.1 223.9 460.1 234.4 462.8 240.6 464.4 245.7 467 256.1 467.3 259.1 412.5 259.1 412.5 190.7 418.4 189.4Z" fill="#006298"/>
<path d="M437.2 151.9L520.5 151.9 520.5 211.5 517 210.4 510.5 206.7 491.2 190.5 481.5 183.9 477 181.5 470.2 178.5 454 172.2 447.5 168.4 444 165.6 441 161.7 438 155.7 436.8 151.9ZM419.3 191.6L421.5 191.2 423.8 191.2 428.6 192.4 432.8 194.8 435.8 198.5 438 202.4 443.3 213.4 448.7 220.1 452.9 226.2 458.2 235.6 462.5 246.4 465.2 259.1 412.5 259.1 412.5 193.1 418.8 191.7Z" fill="#007884"/>
<path d="M438.8 151.9L520.5 151.9 520.5 209.3 519 209 516.8 207.8 511.5 204.6 505.9 199.9 494.2 188.9 486.8 183.6 479.2 179.6 474.2 177.4 454.5 170.4 450 168.1 447 166.2 444.4 163.9 442.5 161.5 438.8 154.3 438.1 151.9ZM419.2 194.6L423.8 194.6 427.5 195.7 431.2 198.1 434 201.4 440.7 214.2 450.5 226.9 455.3 235.2 460.5 247.1 462.5 253.9 463.4 259.1 412.5 259.1 412.5 195.6 418.9 194.7Z" fill="#008c73"/>
<path d="M440.2 151.9L520.5 151.9 520.5 206.3 519 205.9 515.2 203.9 509.2 199.4 505.2 195.4 497.8 186.4 495 183.9 491.2 181.4 486 178.7 478.5 175.5 471 173 456.8 169.1 452.2 167.2 448.5 165.1 445.5 162.6 443.5 160.2 440.3 154.2 439.6 151.9ZM417 197.6L421.5 197.3 425.2 197.9 428.2 199.2 431.3 202.2 433.2 205.2 436.3 211.9 438.1 214.9 445.8 223.9 449 228.4 451.6 232.9 456 241.8 459.8 250.5 461.1 254.7 461.7 259.1 412.5 259.1 412.5 198.3 416.8 197.7Z" fill="#00a555"/>
<path d="M441.8 151.9L520.5 151.9 520.5 203.2 519 202.8 516.1 201.4 509.2 196.2 506.2 192.4 503.2 186 501.7 183.4 499.5 180.7 497.2 179 492.7 176.9 478.5 171.9 471.8 170.1 459 167.6 452.9 165.4 448.5 163 445.5 160.2 442.5 155.2 441.3 151.9ZM415.5 200.6L419.2 200.1 423.8 200.4 426.8 201.5 429 203.7 431.2 207.3 434.2 214.2 435.6 216.4 437.2 218.4 443.6 224.6 448.7 232.2 458.2 251.6 459.6 256.1 459.8 259.1 412.5 259.1 412.5 200.9 415.2 200.7Z" fill="#00c337"/>
<path d="M444.8 151.9L520.5 151.9 520.5 197.5 519 197 517.5 196 512.7 191.7 510 187.9 505.5 179.7 503.7 177.4 501.8 175.8 498 174.1 480 168.6 461.2 164.7 456 163 451.5 160.7 448.5 158.4 445.5 154.6 444.3 151.9ZM413.2 203.4L417.8 203.6 420.8 204 423.7 205.1 426 206.6 429 209.9 432.1 214.9 434.9 218.7 442.9 226.9 447.1 232.9 450.4 238.9 456.1 251.7 457.7 256.9 457.9 259.1 412.5 259.1 412.5 203.4Z" fill="#00e119"/>
<path d="M449.2 151.9L520.5 151.9 520.5 189.1 518.2 187.7 508.1 176.7 505.2 174.4 502.7 172.9 498 171 483.8 166.4 464.2 161.4 458.2 159.5 454.5 157.7 451.5 155.7 449.2 153.4 448.6 151.9ZM413.2 205.8L417 206.4 420 207.2 423 208.6 425.2 210.2 442.1 228.4 446.3 234.4 450.7 242.7 454.3 251.7 455.7 256.9 455.9 259.1 412.5 259.1 412.5 205.8Z" fill="#00fa00"/>
<path d="M453 151.9L520.5 151.9 520.5 180.5 519 179.7 515.6 176.6 512.2 174.1 504.8 170.2 490.5 165.3 460.5 156.4 454.5 153.8 453.2 152.7 452.9 151.9ZM413.1 208.2L416.2 208.9 420 210.3 424.5 213 432 220.2 441 229.5 445.5 235.7 449.3 242.7 452.2 250.2 453.1 253.9 454 259.1 412.5 259.1 412.5 208.1Z" fill="#0af200"/>
<path d="M461.2 151.9L520.5 151.9 520.5 171.7 513.8 169 465.3 154.2 461.7 152.6 461 151.9ZM413.2 210.6L420 213.3 424.5 216 430.5 221.3 439.6 230.7 444.1 236.7 448.3 244.2 450.6 250.2 452.4 259.1 412.5 259.1 412.5 210.5Z" fill="#1eec00"/>
<path d="M472.5 151.9L520.5 151.9 520.5 163 510.8 163.5 504.8 162.7 480.8 155.5 474.7 153.4 473.1 152.7 472.4 151.9ZM412.8 212.6L420 215.8 425.3 219.1 429.8 223.2 438.1 232.2 443.7 239.7 447.1 245.6 449.3 250.9 450.4 254.7 451.2 259.1 412.5 259.1 412.5 212.6Z" fill="#37eb00"/>
<path d="M483 151.9L520.5 151.9 520.5 155.9 510 158.1 505.5 158.4 501 158.2 497.2 157.6 492.8 156.2 484.9 153.4 482.6 151.9ZM413.2 214.7L420 217.8 424.8 220.9 428.9 224.6 436.2 232.9 442 240.4 446.2 247.4 449.4 254.7 450.3 259.1 412.5 259.1 412.5 214.6Z" fill="#50eb00"/>
<path d="M491.2 151.9L511.2 151.9 510.4 152.7 508.6 153.4 501.8 155.2 499.5 155.3 497.2 155.1 495 154.3 491.7 152.7 491.1 151.9ZM413.2 216.8L418.5 219 423 221.6 426 224 429.4 227.7 438 238.2 444 246.6 446.6 250.9 448.3 254.7 449.2 256.9 449.4 259.1 412.5 259.1 412.5 216.6Z" fill="#6eec00"/>
<path d="M497.2 151.9L500.8 151.9 500.2 152.7 498.8 152.9 497.9 152.7 497.2 151.9ZM413.2 218.8L417 220.2 421.5 222.4 423.8 224 426.7 226.9 438.8 242.1 444.8 250.4 448 256.1 448.4 257.6 448.4 259.1 412.5 259.1 412.5 218.7Z" fill="#96f000"/>
<path d="M413.2 220.8L416.2 221.8 421 223.9 423 225.4 425.2 227.7 431.2 235.9 444.8 252.7 447.2 256.9 447.3 259.1 412.5 259.1 412.5 220.7Z" fill="#bef500"/>
<path d="M413.3 223.7L418.7 226.1 422.4 229.2 429.8 238.5 443.6 254.7 445.1 256.9 445.5 257.6 445.4 259.1 412.5 259.1 412.5 223.6Z" fill="#dcf800"/>
<path d="M413.2 227.3L417.6 229.9 421.6 233.7 440.2 254.6 442 256.9 442.6 259.1 412.5 259.1 412.5 227.1Z" fill="#f5fa00"/>
<path d="M413.2 230.8L415.3 232.1 418.5 235.2 435.8 253.3 438.8 256.9 439.5 259.1 412.5 259.1 412.5 230.7Z" fill="#fff200"/>
<path d="M413.1 235.1L414.2 235.9 435 256.9 435.5 257.6 435.6 259.1 412.5 259.1 412.5 235Z" fill="#ffe400"/>
<path d="M413.1 246.4L420.1 252.4 426.2 256.9 426.8 257.6 427.2 259.1 412.5 259.1 412.5 246.2Z" fill="#fcd405"/>
<path d="M472 152.4C473 152.8 476 153.8 478 154.5C480 155.2 481.1 155.6 483.9 156.5C486.7 157.4 490.8 158.5 494.7 159.7C498.6 160.8 503.4 162.9 507.6 163.4C511.8 163.9 517.8 163 519.8 162.9M494.7 152.4C495.4 152.8 497.6 154.5 499 154.5C500.4 154.5 502.6 152.8 503.3 152.4M442 152.4C442.9 153.8 444.5 158.5 447.2 160.8C449.9 163.1 454 164.9 458 166.2C462 167.4 467.2 167.6 471 168.3C474.8 169 477.4 169.6 480.6 170.5C483.8 171.4 486.9 172.6 490.3 173.7C493.7 174.8 498.6 175.2 501.1 177C503.6 178.8 504.3 182 505.4 184.5C506.5 187 506.2 189.7 507.6 192C509 194.3 512 196.9 514 198.5C516 200.1 518.8 201.2 519.8 201.7M413 234.2C414.4 235.6 418.4 239.7 421.1 242.5C423.8 245.3 426.8 248.2 429.4 250.8C431.9 253.4 435.2 256.8 436.4 258M413 221.7C414.6 222.4 419.8 223.5 422.5 225.8C425.2 228.1 426.8 232.2 429.4 235.5C431.9 238.8 435.2 242.3 437.8 245.3C440.4 248.3 443.1 251.5 444.7 253.6C446.3 255.7 447 257.3 447.5 258M413 210.5C414.6 211.2 419.5 212.8 422.5 214.7C425.5 216.6 428 219.1 430.8 221.7C433.6 224.2 436.6 227 439.2 230C441.8 233 444.2 236.5 446.1 239.7C448 242.9 449.4 246.3 450.3 249.4C451.2 252.5 451.5 256.6 451.7 258M413 201C414.2 200.8 417.7 200 420 200C422.3 200 424.9 200 426.7 201C428.5 202 429.4 203.5 430.8 206C432.2 208.5 432.9 213 435 216.1C437.1 219.2 441 221.6 443.3 224.4C445.6 227.2 447 229.6 448.9 232.8C450.8 236.1 452.8 240.7 454.4 243.9C456 247.1 457.7 249.8 458.6 252.2C459.5 254.5 459.8 257 460 258" fill="none" stroke="#1a2a1a" stroke-width="0.55" stroke-opacity="0.85"/>
</g>
<rect x="178" y="21.3" width="8.7" height="103.5" fill="url(#cba)"/>
<rect x="178" y="19.3" width="8.7" height="2" fill="#6e6e6e"/>
<rect x="178" y="124.8" width="8.7" height="2" fill="#111"/>
<rect x="178" y="19.3" width="8.7" height="107.5" fill="none" stroke="#8a8a8a" stroke-width="0.4"/>
<line x1="186.7" y1="21.3" x2="188.3" y2="21.3" stroke="#888" stroke-width="0.5"/>
<text x="190.3" y="23.1" font-size="5.5" fill="#6a6a6a" font-family="Liberation Serif, Times New Roman, serif">68</text>
<line x1="186.7" y1="34.2375" x2="188.3" y2="34.2375" stroke="#888" stroke-width="0.5"/>
<text x="190.3" y="36.0375" font-size="5.5" fill="#6a6a6a" font-family="Liberation Serif, Times New Roman, serif">61</text>
<line x1="186.7" y1="47.175" x2="188.3" y2="47.175" stroke="#888" stroke-width="0.5"/>
<text x="190.3" y="48.975" font-size="5.5" fill="#6a6a6a" font-family="Liberation Serif, Times New Roman, serif">54</text>
<line x1="186.7" y1="60.1125" x2="188.3" y2="60.1125" stroke="#888" stroke-width="0.5"/>
<text x="190.3" y="61.9125" font-size="5.5" fill="#6a6a6a" font-family="Liberation Serif, Times New Roman, serif">47</text>
<line x1="186.7" y1="73.05" x2="188.3" y2="73.05" stroke="#888" stroke-width="0.5"/>
<text x="190.3" y="74.85" font-size="5.5" fill="#6a6a6a" font-family="Liberation Serif, Times New Roman, serif">40</text>
<line x1="186.7" y1="85.9875" x2="188.3" y2="85.9875" stroke="#888" stroke-width="0.5"/>
<text x="190.3" y="87.7875" font-size="5.5" fill="#6a6a6a" font-family="Liberation Serif, Times New Roman, serif">33</text>
<line x1="186.7" y1="98.925" x2="188.3" y2="98.925" stroke="#888" stroke-width="0.5"/>
<text x="190.3" y="100.725" font-size="5.5" fill="#6a6a6a" font-family="Liberation Serif, Times New Roman, serif">26</text>
<line x1="186.7" y1="111.862" x2="188.3" y2="111.862" stroke="#888" stroke-width="0.5"/>
<text x="190.3" y="113.662" font-size="5.5" fill="#6a6a6a" font-family="Liberation Serif, Times New Roman, serif">19</text>
<line x1="186.7" y1="124.8" x2="188.3" y2="124.8" stroke="#888" stroke-width="0.5"/>
<text x="190.3" y="126.6" font-size="5.5" fill="#6a6a6a" font-family="Liberation Serif, Times New Roman, serif">12</text>
<rect x="347" y="21.3" width="8.7" height="103.5" fill="url(#cba)"/>
<rect x="347" y="19.3" width="8.7" height="2" fill="#6e6e6e"/>
<rect x="347" y="124.8" width="8.7" height="2" fill="#111"/>
<rect x="347" y="19.3" width="8.7" height="107.5" fill="none" stroke="#8a8a8a" stroke-width="0.4"/>
<line x1="355.7" y1="21.3" x2="357.3" y2="21.3" stroke="#888" stroke-width="0.5"/>
<text x="359.3" y="23.1" font-size="5.5" fill="#6a6a6a" font-family="Liberation Serif, Times New Roman, serif">68</text>
<line x1="355.7" y1="34.2375" x2="357.3" y2="34.2375" stroke="#888" stroke-width="0.5"/>
<text x="359.3" y="36.0375" font-size="5.5" fill="#6a6a6a" font-family="Liberation Serif, Times New Roman, serif">61</text>
<line x1="355.7" y1="47.175" x2="357.3" y2="47.175" stroke="#888" stroke-width="0.5"/>
<text x="359.3" y="48.975" font-size="5.5" fill="#6a6a6a" font-family="Liberation Serif, Times New Roman, serif">54</text>
<line x1="355.7" y1="60.1125" x2="357.3" y2="60.1125" stroke="#888" stroke-width="0.5"/>
<text x="359.3" y="61.9125" font-size="5.5" fill="#6a6a6a" font-family="Liberation Serif, Times New Roman, serif">47</text>
<line x1="355.7" y1="73.05" x2="357.3" y2="73.05" stroke="#888" stroke-width="0.5"/>
<text x="359.3" y="74.85" font-size="5.5" fill="#6a6a6a" font-family="Liberation Serif, Times New Roman, serif">40</text>
<line x1="355.7" y1="85.9875" x2="357.3" y2="85.9875" stroke="#888" stroke-width="0.5"/>
<text x="359.3" y="87.7875" font-size="5.5" fill="#6a6a6a" font-family="Liberation Serif, Times New Roman, serif">33</text>
<line x1="355.7" y1="98.925" x2="357.3" y2="98.925" stroke="#888" stroke-width="0.5"/>
<text x="359.3" y="100.725" font-size="5.5" fill="#6a6a6a" font-family="Liberation Serif, Times New Roman, serif">26</text>
<line x1="355.7" y1="111.862" x2="357.3" y2="111.862" stroke="#888" stroke-width="0.5"/>
<text x="359.3" y="113.662" font-size="5.5" fill="#6a6a6a" font-family="Liberation Serif, Times New Roman, serif">19</text>
<line x1="355.7" y1="124.8" x2="357.3" y2="124.8" stroke="#888" stroke-width="0.5"/>
<text x="359.3" y="126.6" font-size="5.5" fill="#6a6a6a" font-family="Liberation Serif, Times New Roman, serif">12</text>
<rect x="520" y="21.3" width="8.7" height="103.5" fill="url(#cba)"/>
<rect x="520" y="19.3" width="8.7" height="2" fill="#6e6e6e"/>
<rect x="520" y="124.8" width="8.7" height="2" fill="#111"/>
<rect x="520" y="19.3" width="8.7" height="107.5" fill="none" stroke="#8a8a8a" stroke-width="0.4"/>
<line x1="528.7" y1="21.3" x2="530.3" y2="21.3" stroke="#888" stroke-width="0.5"/>
<text x="532.3" y="23.1" font-size="5.5" fill="#6a6a6a" font-family="Liberation Serif, Times New Roman, serif">68</text>
<line x1="528.7" y1="34.2375" x2="530.3" y2="34.2375" stroke="#888" stroke-width="0.5"/>
<text x="532.3" y="36.0375" font-size="5.5" fill="#6a6a6a" font-family="Liberation Serif, Times New Roman, serif">61</text>
<line x1="528.7" y1="47.175" x2="530.3" y2="47.175" stroke="#888" stroke-width="0.5"/>
<text x="532.3" y="48.975" font-size="5.5" fill="#6a6a6a" font-family="Liberation Serif, Times New Roman, serif">54</text>
<line x1="528.7" y1="60.1125" x2="530.3" y2="60.1125" stroke="#888" stroke-width="0.5"/>
<text x="532.3" y="61.9125" font-size="5.5" fill="#6a6a6a" font-family="Liberation Serif, Times New Roman, serif">47</text>
<line x1="528.7" y1="73.05" x2="530.3" y2="73.05" stroke="#888" stroke-width="0.5"/>
<text x="532.3" y="74.85" font-size="5.5" fill="#6a6a6a" font-family="Liberation Serif, Times New Roman, serif">40</text>
<line x1="528.7" y1="85.9875" x2="530.3" y2="85.9875" stroke="#888" stroke-width="0.5"/>
<text x="532.3" y="87.7875" font-size="5.5" fill="#6a6a6a" font-family="Liberation Serif, Times New Roman, serif">33</text>
<line x1="528.7" y1="98.925" x2="530.3" y2="98.925" stroke="#888" stroke-width="0.5"/>
<text x="532.3" y="100.725" font-size="5.5" fill="#6a6a6a" font-family="Liberation Serif, Times New Roman, serif">26</text>
<line x1="528.7" y1="111.862" x2="530.3" y2="111.862" stroke="#888" stroke-width="0.5"/>
<text x="532.3" y="113.662" font-size="5.5" fill="#6a6a6a" font-family="Liberation Serif, Times New Roman, serif">19</text>
<line x1="528.7" y1="124.8" x2="530.3" y2="124.8" stroke="#888" stroke-width="0.5"/>
<text x="532.3" y="126.6" font-size="5.5" fill="#6a6a6a" font-family="Liberation Serif, Times New Roman, serif">12</text>
<rect x="174.7" y="152.30" width="6.8" height="3.87" fill="#f5aa23"/>
<rect x="174.7" y="155.87" width="6.8" height="3.87" fill="#fac314"/>
<rect x="174.7" y="159.44" width="6.8" height="3.87" fill="#fcd405"/>
<rect x="174.7" y="163.01" width="6.8" height="3.87" fill="#ffe400"/>
<rect x="174.7" y="166.58" width="6.8" height="3.87" fill="#fff200"/>
<rect x="174.7" y="170.14" width="6.8" height="3.87" fill="#f5fa00"/>
<rect x="174.7" y="173.71" width="6.8" height="3.87" fill="#dcf800"/>
<rect x="174.7" y="177.28" width="6.8" height="3.87" fill="#bef500"/>
<rect x="174.7" y="180.85" width="6.8" height="3.87" fill="#96f000"/>
<rect x="174.7" y="184.42" width="6.8" height="3.87" fill="#6eec00"/>
<rect x="174.7" y="187.99" width="6.8" height="3.87" fill="#50eb00"/>
<rect x="174.7" y="191.56" width="6.8" height="3.87" fill="#37eb00"/>
<rect x="174.7" y="195.13" width="6.8" height="3.87" fill="#1eec00"/>
<rect x="174.7" y="198.70" width="6.8" height="3.87" fill="#0af200"/>
<rect x="174.7" y="202.27" width="6.8" height="3.87" fill="#00fa00"/>
<rect x="174.7" y="205.83" width="6.8" height="3.87" fill="#00e119"/>
<rect x="174.7" y="209.40" width="6.8" height="3.87" fill="#00c337"/>
<rect x="174.7" y="212.97" width="6.8" height="3.87" fill="#00a555"/>
<rect x="174.7" y="216.54" width="6.8" height="3.87" fill="#008c73"/>
<rect x="174.7" y="220.11" width="6.8" height="3.87" fill="#007884"/>
<rect x="174.7" y="223.68" width="6.8" height="3.87" fill="#006298"/>
<rect x="174.7" y="227.25" width="6.8" height="3.87" fill="#0046b6"/>
<rect x="174.7" y="230.82" width="6.8" height="3.87" fill="#002dd2"/>
<rect x="174.7" y="234.39" width="6.8" height="3.87" fill="#0014e8"/>
<rect x="174.7" y="237.96" width="6.8" height="3.87" fill="#0505f5"/>
<rect x="174.7" y="241.52" width="6.8" height="3.87" fill="#0f0ffa"/>
<rect x="174.7" y="245.09" width="6.8" height="3.87" fill="#1919f8"/>
<rect x="174.7" y="248.66" width="6.8" height="3.87" fill="#2828f5"/>
<rect x="174.7" y="252.23" width="6.8" height="3.87" fill="#3737f0"/>
<line x1="174.7" y1="155.87" x2="181.5" y2="155.87" stroke="#3a3a20" stroke-width="0.45" stroke-opacity="0.75"/>
<line x1="174.7" y1="159.44" x2="181.5" y2="159.44" stroke="#3a3a20" stroke-width="0.45" stroke-opacity="0.75"/>
<line x1="174.7" y1="163.01" x2="181.5" y2="163.01" stroke="#3a3a20" stroke-width="0.45" stroke-opacity="0.75"/>
<line x1="174.7" y1="166.58" x2="181.5" y2="166.58" stroke="#3a3a20" stroke-width="0.45" stroke-opacity="0.75"/>
<line x1="174.7" y1="170.14" x2="181.5" y2="170.14" stroke="#3a3a20" stroke-width="0.45" stroke-opacity="0.75"/>
<line x1="174.7" y1="173.71" x2="181.5" y2="173.71" stroke="#3a3a20" stroke-width="0.45" stroke-opacity="0.75"/>
<line x1="174.7" y1="177.28" x2="181.5" y2="177.28" stroke="#3a3a20" stroke-width="0.45" stroke-opacity="0.75"/>
<line x1="174.7" y1="180.85" x2="181.5" y2="180.85" stroke="#3a3a20" stroke-width="0.45" stroke-opacity="0.75"/>
<line x1="174.7" y1="184.42" x2="181.5" y2="184.42" stroke="#3a3a20" stroke-width="0.45" stroke-opacity="0.75"/>
<line x1="174.7" y1="187.99" x2="181.5" y2="187.99" stroke="#3a3a20" stroke-width="0.45" stroke-opacity="0.75"/>
<line x1="174.7" y1="191.56" x2="181.5" y2="191.56" stroke="#3a3a20" stroke-width="0.45" stroke-opacity="0.75"/>
<line x1="174.7" y1="195.13" x2="181.5" y2="195.13" stroke="#3a3a20" stroke-width="0.45" stroke-opacity="0.75"/>
<line x1="174.7" y1="198.70" x2="181.5" y2="198.70" stroke="#3a3a20" stroke-width="0.45" stroke-opacity="0.75"/>
<line x1="174.7" y1="202.27" x2="181.5" y2="202.27" stroke="#3a3a20" stroke-width="0.45" stroke-opacity="0.75"/>
<line x1="174.7" y1="205.83" x2="181.5" y2="205.83" stroke="#3a3a20" stroke-width="0.45" stroke-opacity="0.75"/>
<line x1="174.7" y1="209.40" x2="181.5" y2="209.40" stroke="#3a3a20" stroke-width="0.45" stroke-opacity="0.75"/>
<line x1="174.7" y1="212.97" x2="181.5" y2="212.97" stroke="#3a3a20" stroke-width="0.45" stroke-opacity="0.75"/>
<line x1="174.7" y1="216.54" x2="181.5" y2="216.54" stroke="#3a3a20" stroke-width="0.45" stroke-opacity="0.75"/>
<line x1="174.7" y1="220.11" x2="181.5" y2="220.11" stroke="#3a3a20" stroke-width="0.45" stroke-opacity="0.75"/>
<line x1="174.7" y1="223.68" x2="181.5" y2="223.68" stroke="#3a3a20" stroke-width="0.45" stroke-opacity="0.75"/>
<line x1="174.7" y1="227.25" x2="181.5" y2="227.25" stroke="#3a3a20" stroke-width="0.45" stroke-opacity="0.75"/>
<line x1="174.7" y1="230.82" x2="181.5" y2="230.82" stroke="#3a3a20" stroke-width="0.45" stroke-opacity="0.75"/>
<line x1="174.7" y1="234.39" x2="181.5" y2="234.39" stroke="#3a3a20" stroke-width="0.45" stroke-opacity="0.75"/>
<line x1="174.7" y1="237.96" x2="181.5" y2="237.96" stroke="#3a3a20" stroke-width="0.45" stroke-opacity="0.75"/>
<line x1="174.7" y1="241.52" x2="181.5" y2="241.52" stroke="#3a3a20" stroke-width="0.45" stroke-opacity="0.75"/>
<line x1="174.7" y1="245.09" x2="181.5" y2="245.09" stroke="#3a3a20" stroke-width="0.45" stroke-opacity="0.75"/>
<line x1="174.7" y1="248.66" x2="181.5" y2="248.66" stroke="#3a3a20" stroke-width="0.45" stroke-opacity="0.75"/>
<line x1="174.7" y1="252.23" x2="181.5" y2="252.23" stroke="#3a3a20" stroke-width="0.45" stroke-opacity="0.75"/>
<rect x="174.7" y="152.3" width="6.8" height="103.5" fill="none" stroke="#444" stroke-width="0.45"/>
<text x="183.1" y="157.27" font-size="4.8" fill="#666" font-family="Liberation Serif, Times New Roman, serif">68</text>
<text x="183.1" y="164.41" font-size="4.8" fill="#666" font-family="Liberation Serif, Times New Roman, serif">64</text>
<text x="183.1" y="171.54" font-size="4.8" fill="#666" font-family="Liberation Serif, Times New Roman, serif">60</text>
<text x="183.1" y="178.68" font-size="4.8" fill="#666" font-family="Liberation Serif, Times New Roman, serif">56</text>
<text x="183.1" y="185.82" font-size="4.8" fill="#666" font-family="Liberation Serif, Times New Roman, serif">52</text>
<text x="183.1" y="192.96" font-size="4.8" fill="#666" font-family="Liberation Serif, Times New Roman, serif">48</text>
<text x="183.1" y="200.10" font-size="4.8" fill="#666" font-family="Liberation Serif, Times New Roman, serif">44</text>
<text x="183.1" y="207.23" font-size="4.8" fill="#666" font-family="Liberation Serif, Times New Roman, serif">40</text>
<text x="183.1" y="214.37" font-size="4.8" fill="#666" font-family="Liberation Serif, Times New Roman, serif">36</text>
<text x="183.1" y="221.51" font-size="4.8" fill="#666" font-family="Liberation Serif, Times New Roman, serif">32</text>
<text x="183.1" y="228.65" font-size="4.8" fill="#666" font-family="Liberation Serif, Times New Roman, serif">28</text>
<text x="183.1" y="235.79" font-size="4.8" fill="#666" font-family="Liberation Serif, Times New Roman, serif">24</text>
<text x="183.1" y="242.92" font-size="4.8" fill="#666" font-family="Liberation Serif, Times New Roman, serif">20</text>
<text x="183.1" y="250.06" font-size="4.8" fill="#666" font-family="Liberation Serif, Times New Roman, serif">16</text>
<text x="183.1" y="257.20" font-size="4.8" fill="#666" font-family="Liberation Serif, Times New Roman, serif">12</text>
<rect x="345.2" y="150.90" width="6.8" height="3.96" fill="#f5aa23"/>
<rect x="345.2" y="154.56" width="6.8" height="3.96" fill="#fac314"/>
<rect x="345.2" y="158.21" width="6.8" height="3.96" fill="#fcd405"/>
<rect x="345.2" y="161.87" width="6.8" height="3.96" fill="#ffe400"/>
<rect x="345.2" y="165.52" width="6.8" height="3.96" fill="#fff200"/>
<rect x="345.2" y="169.18" width="6.8" height="3.96" fill="#f5fa00"/>
<rect x="345.2" y="172.83" width="6.8" height="3.96" fill="#dcf800"/>
<rect x="345.2" y="176.49" width="6.8" height="3.96" fill="#bef500"/>
<rect x="345.2" y="180.14" width="6.8" height="3.96" fill="#96f000"/>
<rect x="345.2" y="183.80" width="6.8" height="3.96" fill="#6eec00"/>
<rect x="345.2" y="187.45" width="6.8" height="3.96" fill="#50eb00"/>
<rect x="345.2" y="191.11" width="6.8" height="3.96" fill="#37eb00"/>
<rect x="345.2" y="194.76" width="6.8" height="3.96" fill="#1eec00"/>
<rect x="345.2" y="198.42" width="6.8" height="3.96" fill="#0af200"/>
<rect x="345.2" y="202.07" width="6.8" height="3.96" fill="#00fa00"/>
<rect x="345.2" y="205.73" width="6.8" height="3.96" fill="#00e119"/>
<rect x="345.2" y="209.38" width="6.8" height="3.96" fill="#00c337"/>
<rect x="345.2" y="213.04" width="6.8" height="3.96" fill="#00a555"/>
<rect x="345.2" y="216.69" width="6.8" height="3.96" fill="#008c73"/>
<rect x="345.2" y="220.35" width="6.8" height="3.96" fill="#007884"/>
<rect x="345.2" y="224.00" width="6.8" height="3.96" fill="#006298"/>
<rect x="345.2" y="227.66" width="6.8" height="3.96" fill="#0046b6"/>
<rect x="345.2" y="231.31" width="6.8" height="3.96" fill="#002dd2"/>
<rect x="345.2" y="234.97" width="6.8" height="3.96" fill="#0014e8"/>
<rect x="345.2" y="238.62" width="6.8" height="3.96" fill="#0505f5"/>
<rect x="345.2" y="242.28" width="6.8" height="3.96" fill="#0f0ffa"/>
<rect x="345.2" y="245.93" width="6.8" height="3.96" fill="#1919f8"/>
<rect x="345.2" y="249.59" width="6.8" height="3.96" fill="#2828f5"/>
<rect x="345.2" y="253.24" width="6.8" height="3.96" fill="#3737f0"/>
<line x1="345.2" y1="154.56" x2="352" y2="154.56" stroke="#3a3a20" stroke-width="0.45" stroke-opacity="0.75"/>
<line x1="345.2" y1="158.21" x2="352" y2="158.21" stroke="#3a3a20" stroke-width="0.45" stroke-opacity="0.75"/>
<line x1="345.2" y1="161.87" x2="352" y2="161.87" stroke="#3a3a20" stroke-width="0.45" stroke-opacity="0.75"/>
<line x1="345.2" y1="165.52" x2="352" y2="165.52" stroke="#3a3a20" stroke-width="0.45" stroke-opacity="0.75"/>
<line x1="345.2" y1="169.18" x2="352" y2="169.18" stroke="#3a3a20" stroke-width="0.45" stroke-opacity="0.75"/>
<line x1="345.2" y1="172.83" x2="352" y2="172.83" stroke="#3a3a20" stroke-width="0.45" stroke-opacity="0.75"/>
<line x1="345.2" y1="176.49" x2="352" y2="176.49" stroke="#3a3a20" stroke-width="0.45" stroke-opacity="0.75"/>
<line x1="345.2" y1="180.14" x2="352" y2="180.14" stroke="#3a3a20" stroke-width="0.45" stroke-opacity="0.75"/>
<line x1="345.2" y1="183.80" x2="352" y2="183.80" stroke="#3a3a20" stroke-width="0.45" stroke-opacity="0.75"/>
<line x1="345.2" y1="187.45" x2="352" y2="187.45" stroke="#3a3a20" stroke-width="0.45" stroke-opacity="0.75"/>
<line x1="345.2" y1="191.11" x2="352" y2="191.11" stroke="#3a3a20" stroke-width="0.45" stroke-opacity="0.75"/>
<line x1="345.2" y1="194.76" x2="352" y2="194.76" stroke="#3a3a20" stroke-width="0.45" stroke-opacity="0.75"/>
<line x1="345.2" y1="198.42" x2="352" y2="198.42" stroke="#3a3a20" stroke-width="0.45" stroke-opacity="0.75"/>
<line x1="345.2" y1="202.07" x2="352" y2="202.07" stroke="#3a3a20" stroke-width="0.45" stroke-opacity="0.75"/>
<line x1="345.2" y1="205.73" x2="352" y2="205.73" stroke="#3a3a20" stroke-width="0.45" stroke-opacity="0.75"/>
<line x1="345.2" y1="209.38" x2="352" y2="209.38" stroke="#3a3a20" stroke-width="0.45" stroke-opacity="0.75"/>
<line x1="345.2" y1="213.04" x2="352" y2="213.04" stroke="#3a3a20" stroke-width="0.45" stroke-opacity="0.75"/>
<line x1="345.2" y1="216.69" x2="352" y2="216.69" stroke="#3a3a20" stroke-width="0.45" stroke-opacity="0.75"/>
<line x1="345.2" y1="220.35" x2="352" y2="220.35" stroke="#3a3a20" stroke-width="0.45" stroke-opacity="0.75"/>
<line x1="345.2" y1="224.00" x2="352" y2="224.00" stroke="#3a3a20" stroke-width="0.45" stroke-opacity="0.75"/>
<line x1="345.2" y1="227.66" x2="352" y2="227.66" stroke="#3a3a20" stroke-width="0.45" stroke-opacity="0.75"/>
<line x1="345.2" y1="231.31" x2="352" y2="231.31" stroke="#3a3a20" stroke-width="0.45" stroke-opacity="0.75"/>
<line x1="345.2" y1="234.97" x2="352" y2="234.97" stroke="#3a3a20" stroke-width="0.45" stroke-opacity="0.75"/>
<line x1="345.2" y1="238.62" x2="352" y2="238.62" stroke="#3a3a20" stroke-width="0.45" stroke-opacity="0.75"/>
<line x1="345.2" y1="242.28" x2="352" y2="242.28" stroke="#3a3a20" stroke-width="0.45" stroke-opacity="0.75"/>
<line x1="345.2" y1="245.93" x2="352" y2="245.93" stroke="#3a3a20" stroke-width="0.45" stroke-opacity="0.75"/>
<line x1="345.2" y1="249.59" x2="352" y2="249.59" stroke="#3a3a20" stroke-width="0.45" stroke-opacity="0.75"/>
<line x1="345.2" y1="253.24" x2="352" y2="253.24" stroke="#3a3a20" stroke-width="0.45" stroke-opacity="0.75"/>
<rect x="345.2" y="150.9" width="6.8" height="106" fill="none" stroke="#444" stroke-width="0.45"/>
<text x="353.6" y="155.96" font-size="4.8" fill="#666" font-family="Liberation Serif, Times New Roman, serif">68</text>
<text x="353.6" y="163.27" font-size="4.8" fill="#666" font-family="Liberation Serif, Times New Roman, serif">64</text>
<text x="353.6" y="170.58" font-size="4.8" fill="#666" font-family="Liberation Serif, Times New Roman, serif">60</text>
<text x="353.6" y="177.89" font-size="4.8" fill="#666" font-family="Liberation Serif, Times New Roman, serif">56</text>
<text x="353.6" y="185.20" font-size="4.8" fill="#666" font-family="Liberation Serif, Times New Roman, serif">52</text>
<text x="353.6" y="192.51" font-size="4.8" fill="#666" font-family="Liberation Serif, Times New Roman, serif">48</text>
<text x="353.6" y="199.82" font-size="4.8" fill="#666" font-family="Liberation Serif, Times New Roman, serif">44</text>
<text x="353.6" y="207.13" font-size="4.8" fill="#666" font-family="Liberation Serif, Times New Roman, serif">40</text>
<text x="353.6" y="214.44" font-size="4.8" fill="#666" font-family="Liberation Serif, Times New Roman, serif">36</text>
<text x="353.6" y="221.75" font-size="4.8" fill="#666" font-family="Liberation Serif, Times New Roman, serif">32</text>
<text x="353.6" y="229.06" font-size="4.8" fill="#666" font-family="Liberation Serif, Times New Roman, serif">28</text>
<text x="353.6" y="236.37" font-size="4.8" fill="#666" font-family="Liberation Serif, Times New Roman, serif">24</text>
<text x="353.6" y="243.68" font-size="4.8" fill="#666" font-family="Liberation Serif, Times New Roman, serif">20</text>
<text x="353.6" y="250.99" font-size="4.8" fill="#666" font-family="Liberation Serif, Times New Roman, serif">16</text>
<text x="353.6" y="258.30" font-size="4.8" fill="#666" font-family="Liberation Serif, Times New Roman, serif">12</text>
<rect x="522.8" y="151.90" width="6.8" height="3.91" fill="#f5aa23"/>
<rect x="522.8" y="155.51" width="6.8" height="3.91" fill="#fac314"/>
<rect x="522.8" y="159.13" width="6.8" height="3.91" fill="#fcd405"/>
<rect x="522.8" y="162.74" width="6.8" height="3.91" fill="#ffe400"/>
<rect x="522.8" y="166.36" width="6.8" height="3.91" fill="#fff200"/>
<rect x="522.8" y="169.97" width="6.8" height="3.91" fill="#f5fa00"/>
<rect x="522.8" y="173.58" width="6.8" height="3.91" fill="#dcf800"/>
<rect x="522.8" y="177.20" width="6.8" height="3.91" fill="#bef500"/>
<rect x="522.8" y="180.81" width="6.8" height="3.91" fill="#96f000"/>
<rect x="522.8" y="184.42" width="6.8" height="3.91" fill="#6eec00"/>
<rect x="522.8" y="188.04" width="6.8" height="3.91" fill="#50eb00"/>
<rect x="522.8" y="191.65" width="6.8" height="3.91" fill="#37eb00"/>
<rect x="522.8" y="195.27" width="6.8" height="3.91" fill="#1eec00"/>
<rect x="522.8" y="198.88" width="6.8" height="3.91" fill="#0af200"/>
<rect x="522.8" y="202.49" width="6.8" height="3.91" fill="#00fa00"/>
<rect x="522.8" y="206.11" width="6.8" height="3.91" fill="#00e119"/>
<rect x="522.8" y="209.72" width="6.8" height="3.91" fill="#00c337"/>
<rect x="522.8" y="213.33" width="6.8" height="3.91" fill="#00a555"/>
<rect x="522.8" y="216.95" width="6.8" height="3.91" fill="#008c73"/>
<rect x="522.8" y="220.56" width="6.8" height="3.91" fill="#007884"/>
<rect x="522.8" y="224.18" width="6.8" height="3.91" fill="#006298"/>
<rect x="522.8" y="227.79" width="6.8" height="3.91" fill="#0046b6"/>
<rect x="522.8" y="231.40" width="6.8" height="3.91" fill="#002dd2"/>
<rect x="522.8" y="235.02" width="6.8" height="3.91" fill="#0014e8"/>
<rect x="522.8" y="238.63" width="6.8" height="3.91" fill="#0505f5"/>
<rect x="522.8" y="242.24" width="6.8" height="3.91" fill="#0f0ffa"/>
<rect x="522.8" y="245.86" width="6.8" height="3.91" fill="#1919f8"/>
<rect x="522.8" y="249.47" width="6.8" height="3.91" fill="#2828f5"/>
<rect x="522.8" y="253.09" width="6.8" height="3.91" fill="#3737f0"/>
<line x1="522.8" y1="155.51" x2="529.6" y2="155.51" stroke="#3a3a20" stroke-width="0.45" stroke-opacity="0.75"/>
<line x1="522.8" y1="159.13" x2="529.6" y2="159.13" stroke="#3a3a20" stroke-width="0.45" stroke-opacity="0.75"/>
<line x1="522.8" y1="162.74" x2="529.6" y2="162.74" stroke="#3a3a20" stroke-width="0.45" stroke-opacity="0.75"/>
<line x1="522.8" y1="166.36" x2="529.6" y2="166.36" stroke="#3a3a20" stroke-width="0.45" stroke-opacity="0.75"/>
<line x1="522.8" y1="169.97" x2="529.6" y2="169.97" stroke="#3a3a20" stroke-width="0.45" stroke-opacity="0.75"/>
<line x1="522.8" y1="173.58" x2="529.6" y2="173.58" stroke="#3a3a20" stroke-width="0.45" stroke-opacity="0.75"/>
<line x1="522.8" y1="177.20" x2="529.6" y2="177.20" stroke="#3a3a20" stroke-width="0.45" stroke-opacity="0.75"/>
<line x1="522.8" y1="180.81" x2="529.6" y2="180.81" stroke="#3a3a20" stroke-width="0.45" stroke-opacity="0.75"/>
<line x1="522.8" y1="184.42" x2="529.6" y2="184.42" stroke="#3a3a20" stroke-width="0.45" stroke-opacity="0.75"/>
<line x1="522.8" y1="188.04" x2="529.6" y2="188.04" stroke="#3a3a20" stroke-width="0.45" stroke-opacity="0.75"/>
<line x1="522.8" y1="191.65" x2="529.6" y2="191.65" stroke="#3a3a20" stroke-width="0.45" stroke-opacity="0.75"/>
<line x1="522.8" y1="195.27" x2="529.6" y2="195.27" stroke="#3a3a20" stroke-width="0.45" stroke-opacity="0.75"/>
<line x1="522.8" y1="198.88" x2="529.6" y2="198.88" stroke="#3a3a20" stroke-width="0.45" stroke-opacity="0.75"/>
<line x1="522.8" y1="202.49" x2="529.6" y2="202.49" stroke="#3a3a20" stroke-width="0.45" stroke-opacity="0.75"/>
<line x1="522.8" y1="206.11" x2="529.6" y2="206.11" stroke="#3a3a20" stroke-width="0.45" stroke-opacity="0.75"/>
<line x1="522.8" y1="209.72" x2="529.6" y2="209.72" stroke="#3a3a20" stroke-width="0.45" stroke-opacity="0.75"/>
<line x1="522.8" y1="213.33" x2="529.6" y2="213.33" stroke="#3a3a20" stroke-width="0.45" stroke-opacity="0.75"/>
<line x1="522.8" y1="216.95" x2="529.6" y2="216.95" stroke="#3a3a20" stroke-width="0.45" stroke-opacity="0.75"/>
<line x1="522.8" y1="220.56" x2="529.6" y2="220.56" stroke="#3a3a20" stroke-width="0.45" stroke-opacity="0.75"/>
<line x1="522.8" y1="224.18" x2="529.6" y2="224.18" stroke="#3a3a20" stroke-width="0.45" stroke-opacity="0.75"/>
<line x1="522.8" y1="227.79" x2="529.6" y2="227.79" stroke="#3a3a20" stroke-width="0.45" stroke-opacity="0.75"/>
<line x1="522.8" y1="231.40" x2="529.6" y2="231.40" stroke="#3a3a20" stroke-width="0.45" stroke-opacity="0.75"/>
<line x1="522.8" y1="235.02" x2="529.6" y2="235.02" stroke="#3a3a20" stroke-width="0.45" stroke-opacity="0.75"/>
<line x1="522.8" y1="238.63" x2="529.6" y2="238.63" stroke="#3a3a20" stroke-width="0.45" stroke-opacity="0.75"/>
<line x1="522.8" y1="242.24" x2="529.6" y2="242.24" stroke="#3a3a20" stroke-width="0.45" stroke-opacity="0.75"/>
<line x1="522.8" y1="245.86" x2="529.6" y2="245.86" stroke="#3a3a20" stroke-width="0.45" stroke-opacity="0.75"/>
<line x1="522.8" y1="249.47" x2="529.6" y2="249.47" stroke="#3a3a20" stroke-width="0.45" stroke-opacity="0.75"/>
<line x1="522.8" y1="253.09" x2="529.6" y2="253.09" stroke="#3a3a20" stroke-width="0.45" stroke-opacity="0.75"/>
<rect x="522.8" y="151.9" width="6.8" height="104.8" fill="none" stroke="#444" stroke-width="0.45"/>
<text x="531.2" y="156.91" font-size="4.8" fill="#666" font-family="Liberation Serif, Times New Roman, serif">68</text>
<text x="531.2" y="164.14" font-size="4.8" fill="#666" font-family="Liberation Serif, Times New Roman, serif">64</text>
<text x="531.2" y="171.37" font-size="4.8" fill="#666" font-family="Liberation Serif, Times New Roman, serif">60</text>
<text x="531.2" y="178.60" font-size="4.8" fill="#666" font-family="Liberation Serif, Times New Roman, serif">56</text>
<text x="531.2" y="185.82" font-size="4.8" fill="#666" font-family="Liberation Serif, Times New Roman, serif">52</text>
<text x="531.2" y="193.05" font-size="4.8" fill="#666" font-family="Liberation Serif, Times New Roman, serif">48</text>
<text x="531.2" y="200.28" font-size="4.8" fill="#666" font-family="Liberation Serif, Times New Roman, serif">44</text>
<text x="531.2" y="207.51" font-size="4.8" fill="#666" font-family="Liberation Serif, Times New Roman, serif">40</text>
<text x="531.2" y="214.73" font-size="4.8" fill="#666" font-family="Liberation Serif, Times New Roman, serif">36</text>
<text x="531.2" y="221.96" font-size="4.8" fill="#666" font-family="Liberation Serif, Times New Roman, serif">32</text>
<text x="531.2" y="229.19" font-size="4.8" fill="#666" font-family="Liberation Serif, Times New Roman, serif">28</text>
<text x="531.2" y="236.42" font-size="4.8" fill="#666" font-family="Liberation Serif, Times New Roman, serif">24</text>
<text x="531.2" y="243.64" font-size="4.8" fill="#666" font-family="Liberation Serif, Times New Roman, serif">20</text>
<text x="531.2" y="250.87" font-size="4.8" fill="#666" font-family="Liberation Serif, Times New Roman, serif">16</text>
<text x="531.2" y="258.10" font-size="4.8" fill="#666" font-family="Liberation Serif, Times New Roman, serif">12</text>
<line x1="77.6" y1="152" x2="77.6" y2="150.6" stroke="#666" stroke-width="0.45"/>
<line x1="77.6" y1="257" x2="77.6" y2="258.4" stroke="#666" stroke-width="0.45"/>
<line x1="67" y1="162.4" x2="65.6" y2="162.4" stroke="#666" stroke-width="0.45"/>
<line x1="172" y1="162.4" x2="173.4" y2="162.4" stroke="#666" stroke-width="0.45"/>
<line x1="98.5" y1="152" x2="98.5" y2="150.6" stroke="#666" stroke-width="0.45"/>
<line x1="98.5" y1="257" x2="98.5" y2="258.4" stroke="#666" stroke-width="0.45"/>
<line x1="67" y1="183.3" x2="65.6" y2="183.3" stroke="#666" stroke-width="0.45"/>
<line x1="172" y1="183.3" x2="173.4" y2="183.3" stroke="#666" stroke-width="0.45"/>
<line x1="119.5" y1="152" x2="119.5" y2="150.6" stroke="#666" stroke-width="0.45"/>
<line x1="119.5" y1="257" x2="119.5" y2="258.4" stroke="#666" stroke-width="0.45"/>
<line x1="67" y1="204.3" x2="65.6" y2="204.3" stroke="#666" stroke-width="0.45"/>
<line x1="172" y1="204.3" x2="173.4" y2="204.3" stroke="#666" stroke-width="0.45"/>
<line x1="140.4" y1="152" x2="140.4" y2="150.6" stroke="#666" stroke-width="0.45"/>
<line x1="140.4" y1="257" x2="140.4" y2="258.4" stroke="#666" stroke-width="0.45"/>
<line x1="67" y1="225.2" x2="65.6" y2="225.2" stroke="#666" stroke-width="0.45"/>
<line x1="172" y1="225.2" x2="173.4" y2="225.2" stroke="#666" stroke-width="0.45"/>
<line x1="161.4" y1="152" x2="161.4" y2="150.6" stroke="#666" stroke-width="0.45"/>
<line x1="161.4" y1="257" x2="161.4" y2="258.4" stroke="#666" stroke-width="0.45"/>
<line x1="67" y1="246.2" x2="65.6" y2="246.2" stroke="#666" stroke-width="0.45"/>
<line x1="172" y1="246.2" x2="173.4" y2="246.2" stroke="#666" stroke-width="0.45"/>
<text x="77.6" y="261.3" font-size="3.3" fill="#999" text-anchor="middle" font-family="Liberation Serif, Times New Roman, serif">5</text>
<text x="98.5" y="261.3" font-size="3.3" fill="#999" text-anchor="middle" font-family="Liberation Serif, Times New Roman, serif">10</text>
<text x="119.5" y="261.3" font-size="3.3" fill="#999" text-anchor="middle" font-family="Liberation Serif, Times New Roman, serif">15</text>
<text x="140.4" y="261.3" font-size="3.3" fill="#999" text-anchor="middle" font-family="Liberation Serif, Times New Roman, serif">20</text>
<text x="161.4" y="261.3" font-size="3.3" fill="#999" text-anchor="middle" font-family="Liberation Serif, Times New Roman, serif">25</text>
<text x="65.2" y="163.5" font-size="3.3" fill="#999" text-anchor="end" font-family="Liberation Serif, Times New Roman, serif">25</text>
<text x="65.2" y="184.4" font-size="3.3" fill="#999" text-anchor="end" font-family="Liberation Serif, Times New Roman, serif">20</text>
<text x="65.2" y="205.4" font-size="3.3" fill="#999" text-anchor="end" font-family="Liberation Serif, Times New Roman, serif">15</text>
<text x="65.2" y="226.3" font-size="3.3" fill="#999" text-anchor="end" font-family="Liberation Serif, Times New Roman, serif">10</text>
<text x="65.2" y="247.3" font-size="3.3" fill="#999" text-anchor="end" font-family="Liberation Serif, Times New Roman, serif">5</text>
<rect x="67" y="152" width="105" height="105" fill="none" stroke="#3a3a3a" stroke-width="0.6"/>
<line x1="248.1" y1="151.2" x2="248.1" y2="149.8" stroke="#666" stroke-width="0.45"/>
<line x1="248.1" y1="257.5" x2="248.1" y2="258.9" stroke="#666" stroke-width="0.45"/>
<line x1="237.5" y1="161.6" x2="236.1" y2="161.6" stroke="#666" stroke-width="0.45"/>
<line x1="344" y1="161.6" x2="345.4" y2="161.6" stroke="#666" stroke-width="0.45"/>
<line x1="269.4" y1="151.2" x2="269.4" y2="149.8" stroke="#666" stroke-width="0.45"/>
<line x1="269.4" y1="257.5" x2="269.4" y2="258.9" stroke="#666" stroke-width="0.45"/>
<line x1="237.5" y1="182.9" x2="236.1" y2="182.9" stroke="#666" stroke-width="0.45"/>
<line x1="344" y1="182.9" x2="345.4" y2="182.9" stroke="#666" stroke-width="0.45"/>
<line x1="290.8" y1="151.2" x2="290.8" y2="149.8" stroke="#666" stroke-width="0.45"/>
<line x1="290.8" y1="257.5" x2="290.8" y2="258.9" stroke="#666" stroke-width="0.45"/>
<line x1="237.5" y1="204.2" x2="236.1" y2="204.2" stroke="#666" stroke-width="0.45"/>
<line x1="344" y1="204.2" x2="345.4" y2="204.2" stroke="#666" stroke-width="0.45"/>
<line x1="312.1" y1="151.2" x2="312.1" y2="149.8" stroke="#666" stroke-width="0.45"/>
<line x1="312.1" y1="257.5" x2="312.1" y2="258.9" stroke="#666" stroke-width="0.45"/>
<line x1="237.5" y1="225.6" x2="236.1" y2="225.6" stroke="#666" stroke-width="0.45"/>
<line x1="344" y1="225.6" x2="345.4" y2="225.6" stroke="#666" stroke-width="0.45"/>
<line x1="333.4" y1="151.2" x2="333.4" y2="149.8" stroke="#666" stroke-width="0.45"/>
<line x1="333.4" y1="257.5" x2="333.4" y2="258.9" stroke="#666" stroke-width="0.45"/>
<line x1="237.5" y1="246.9" x2="236.1" y2="246.9" stroke="#666" stroke-width="0.45"/>
<line x1="344" y1="246.9" x2="345.4" y2="246.9" stroke="#666" stroke-width="0.45"/>
<text x="248.1" y="261.8" font-size="3.3" fill="#999" text-anchor="middle" font-family="Liberation Serif, Times New Roman, serif">5</text>
<text x="269.4" y="261.8" font-size="3.3" fill="#999" text-anchor="middle" font-family="Liberation Serif, Times New Roman, serif">10</text>
<text x="290.8" y="261.8" font-size="3.3" fill="#999" text-anchor="middle" font-family="Liberation Serif, Times New Roman, serif">15</text>
<text x="312.1" y="261.8" font-size="3.3" fill="#999" text-anchor="middle" font-family="Liberation Serif, Times New Roman, serif">20</text>
<text x="333.4" y="261.8" font-size="3.3" fill="#999" text-anchor="middle" font-family="Liberation Serif, Times New Roman, serif">25</text>
<text x="235.7" y="162.7" font-size="3.3" fill="#999" text-anchor="end" font-family="Liberation Serif, Times New Roman, serif">25</text>
<text x="235.7" y="184.0" font-size="3.3" fill="#999" text-anchor="end" font-family="Liberation Serif, Times New Roman, serif">20</text>
<text x="235.7" y="205.3" font-size="3.3" fill="#999" text-anchor="end" font-family="Liberation Serif, Times New Roman, serif">15</text>
<text x="235.7" y="226.7" font-size="3.3" fill="#999" text-anchor="end" font-family="Liberation Serif, Times New Roman, serif">10</text>
<text x="235.7" y="248.0" font-size="3.3" fill="#999" text-anchor="end" font-family="Liberation Serif, Times New Roman, serif">5</text>
<rect x="237.5" y="151.2" width="106.5" height="106.3" fill="none" stroke="#3a3a3a" stroke-width="0.6"/>
<line x1="423.6" y1="152.4" x2="423.6" y2="151" stroke="#666" stroke-width="0.45"/>
<line x1="423.6" y1="258" x2="423.6" y2="259.4" stroke="#666" stroke-width="0.45"/>
<line x1="413" y1="162.8" x2="411.6" y2="162.8" stroke="#666" stroke-width="0.45"/>
<line x1="519.8" y1="162.8" x2="521.2" y2="162.8" stroke="#666" stroke-width="0.45"/>
<line x1="445.0" y1="152.4" x2="445.0" y2="151" stroke="#666" stroke-width="0.45"/>
<line x1="445.0" y1="258" x2="445.0" y2="259.4" stroke="#666" stroke-width="0.45"/>
<line x1="413" y1="184.2" x2="411.6" y2="184.2" stroke="#666" stroke-width="0.45"/>
<line x1="519.8" y1="184.2" x2="521.2" y2="184.2" stroke="#666" stroke-width="0.45"/>
<line x1="466.4" y1="152.4" x2="466.4" y2="151" stroke="#666" stroke-width="0.45"/>
<line x1="466.4" y1="258" x2="466.4" y2="259.4" stroke="#666" stroke-width="0.45"/>
<line x1="413" y1="205.6" x2="411.6" y2="205.6" stroke="#666" stroke-width="0.45"/>
<line x1="519.8" y1="205.6" x2="521.2" y2="205.6" stroke="#666" stroke-width="0.45"/>
<line x1="487.8" y1="152.4" x2="487.8" y2="151" stroke="#666" stroke-width="0.45"/>
<line x1="487.8" y1="258" x2="487.8" y2="259.4" stroke="#666" stroke-width="0.45"/>
<line x1="413" y1="227.0" x2="411.6" y2="227.0" stroke="#666" stroke-width="0.45"/>
<line x1="519.8" y1="227.0" x2="521.2" y2="227.0" stroke="#666" stroke-width="0.45"/>
<line x1="509.2" y1="152.4" x2="509.2" y2="151" stroke="#666" stroke-width="0.45"/>
<line x1="509.2" y1="258" x2="509.2" y2="259.4" stroke="#666" stroke-width="0.45"/>
<line x1="413" y1="248.4" x2="411.6" y2="248.4" stroke="#666" stroke-width="0.45"/>
<line x1="519.8" y1="248.4" x2="521.2" y2="248.4" stroke="#666" stroke-width="0.45"/>
<text x="423.6" y="262.3" font-size="3.3" fill="#999" text-anchor="middle" font-family="Liberation Serif, Times New Roman, serif">5</text>
<text x="445.0" y="262.3" font-size="3.3" fill="#999" text-anchor="middle" font-family="Liberation Serif, Times New Roman, serif">10</text>
<text x="466.4" y="262.3" font-size="3.3" fill="#999" text-anchor="middle" font-family="Liberation Serif, Times New Roman, serif">15</text>
<text x="487.8" y="262.3" font-size="3.3" fill="#999" text-anchor="middle" font-family="Liberation Serif, Times New Roman, serif">20</text>
<text x="509.2" y="262.3" font-size="3.3" fill="#999" text-anchor="middle" font-family="Liberation Serif, Times New Roman, serif">25</text>
<text x="411.2" y="163.9" font-size="3.3" fill="#999" text-anchor="end" font-family="Liberation Serif, Times New Roman, serif">25</text>
<text x="411.2" y="185.3" font-size="3.3" fill="#999" text-anchor="end" font-family="Liberation Serif, Times New Roman, serif">20</text>
<text x="411.2" y="206.7" font-size="3.3" fill="#999" text-anchor="end" font-family="Liberation Serif, Times New Roman, serif">15</text>
<text x="411.2" y="228.1" font-size="3.3" fill="#999" text-anchor="end" font-family="Liberation Serif, Times New Roman, serif">10</text>
<text x="411.2" y="249.5" font-size="3.3" fill="#999" text-anchor="end" font-family="Liberation Serif, Times New Roman, serif">5</text>
<rect x="413" y="152.4" width="106.8" height="105.6" fill="none" stroke="#3a3a3a" stroke-width="0.6"/>
</svg></body></html>
